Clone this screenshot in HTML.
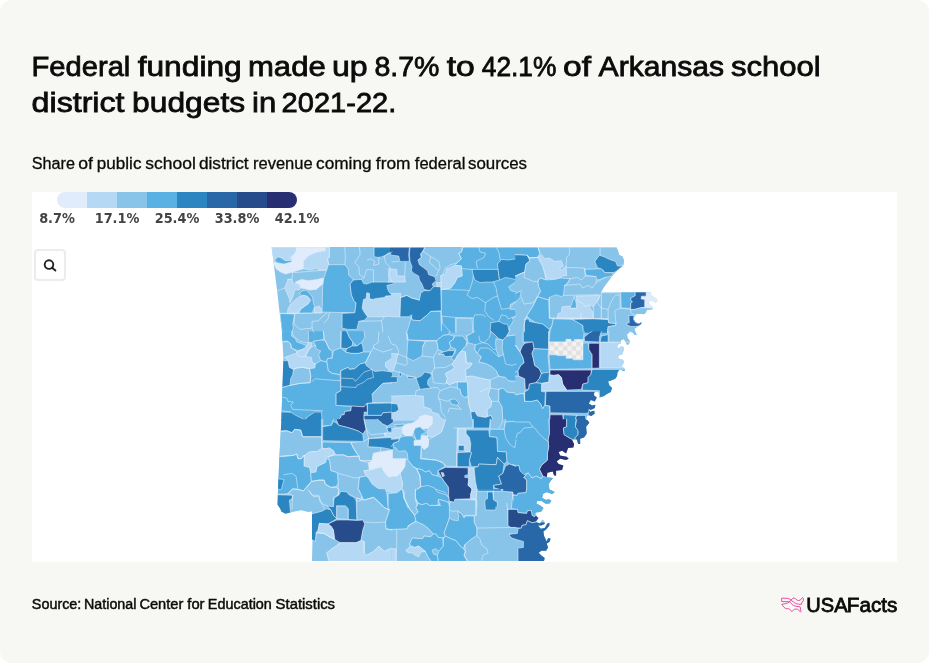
<!DOCTYPE html>
<html lang="en">
<head>
<meta charset="utf-8">
<title>Federal funding share of Arkansas school district budgets</title>
<style>
html,body{margin:0;padding:0;background:#fff;}
body{width:929px;height:663px;overflow:hidden;position:relative;font-family:"Liberation Sans",sans-serif;}
.card{position:absolute;left:0;top:0;width:929px;height:663px;background:#f7f8f3;border-radius:12px;overflow:hidden;}
.ln{display:block;position:absolute;left:0;margin:0;width:929px;white-space:nowrap;color:#0b0b0b;}
h1,p{margin:0;padding:0;font-weight:400;font-size:inherit;}
.ln span{position:absolute;left:0;top:0;white-space:nowrap;transform-origin:0 0;}
.t{font-size:28.5px;line-height:36px;height:36px;-webkit-text-stroke:0.8px #0b0b0b;}
.s{font-size:16px;line-height:20px;height:20px;-webkit-text-stroke:0.3px #0b0b0b;}
.c{font-size:14px;line-height:18px;height:18px;-webkit-text-stroke:0.45px #0b0b0b;}
.g{font-size:20.5px;line-height:24px;height:24px;-webkit-text-stroke:0.8px #0b0b0b;}
.chart{position:absolute;left:32px;top:192px;width:865px;height:369.5px;background:#fff;overflow:hidden;}
.legend{position:absolute;left:25px;top:0;width:240px;height:16px;border-radius:8px;overflow:hidden;display:flex;}
.legend i{display:block;flex:1;height:16px;}
.lab{position:absolute;top:17.4px;font-family:"DejaVu Sans Condensed","DejaVu Sans",sans-serif;font-stretch:condensed;font-weight:700;font-size:14.3px;line-height:18px;color:#444;transform:translateX(-50%);white-space:nowrap;}
.zoom{position:absolute;left:2.4px;top:57.2px;width:31.4px;height:31.9px;box-sizing:border-box;border:2px solid #ececec;border-radius:4px;background:#fff;}
.zoom svg{position:absolute;left:-2px;top:-2px;}
.icon{position:absolute;left:776.6px;top:592px;width:32px;height:24px;}
</style>
</head>
<body>
<div class="card">
<h1><span class="ln t" style="top:47.6px"><span style="transform:translateX(31.58px) scaleX(1.0216)">Federal</span> <span style="transform:translateX(137.66px) scaleX(1.1134)">funding</span> <span style="transform:translateX(247.96px) scaleX(1.0913)">made</span> <span style="transform:translateX(332.03px) scaleX(1.1247)">up</span> <span style="transform:translateX(374.41px) scaleX(1.0006)">8.7%</span> <span style="transform:translateX(446.63px) scaleX(1.1845)">to</span> <span style="transform:translateX(481.73px) scaleX(0.9241)">42.1%</span> <span style="transform:translateX(563.11px) scaleX(1.1791)">of</span> <span style="transform:translateX(598.62px) scaleX(1.0569)">Arkansas</span> <span style="transform:translateX(731.02px) scaleX(1.0894)">school</span></span><span class="ln t" style="top:83.5px"><span style="transform:translateX(31.59px) scaleX(1.1287)">district</span> <span style="transform:translateX(132.10px) scaleX(1.1142)">budgets</span> <span style="transform:translateX(251.98px) scaleX(1.0902)">in</span> <span style="transform:translateX(281.62px) scaleX(1.0188)">2021-22.</span></span></h1>
<p><span class="ln s" style="top:154px"><span style="transform:translateX(31.66px) scaleX(1.0129)">Share</span> <span style="transform:translateX(78.23px) scaleX(1.0996)">of</span> <span style="transform:translateX(96.86px) scaleX(1.0655)">public</span> <span style="transform:translateX(145.37px) scaleX(1.0900)">school</span> <span style="transform:translateX(198.88px) scaleX(1.0767)">district</span> <span style="transform:translateX(252.98px) scaleX(1.0315)">revenue</span> <span style="transform:translateX(316.09px) scaleX(1.0761)">coming</span> <span style="transform:translateX(375.85px) scaleX(1.0813)">from</span> <span style="transform:translateX(414.82px) scaleX(1.0320)">federal</span> <span style="transform:translateX(467.94px) scaleX(1.0551)">sources</span></span></p>
<div class="chart">
<div class="legend"><i style="background:#e0ecfb"></i><i style="background:#b5d9f4"></i><i style="background:#88c4ea"></i><i style="background:#59b0e2"></i><i style="background:#2a85c1"></i><i style="background:#2868a8"></i><i style="background:#264c8c"></i><i style="background:#272e72"></i></div>
<span class="lab" style="left:25px">8.7%</span>
<span class="lab" style="left:85px">17.1%</span>
<span class="lab" style="left:145px">25.4%</span>
<span class="lab" style="left:205px">33.8%</span>
<span class="lab" style="left:265px">42.1%</span>
<svg class="map" width="865" height="369" viewBox="0 0 865 369" style="position:absolute;left:0;top:0">
<defs><pattern id="chk" x="7.4" y="0.2" width="8.8" height="8.8" patternUnits="userSpaceOnUse"><rect width="8.8" height="8.8" fill="#f3f3f3"/><rect width="4.4" height="4.4" fill="#e0e0e0"/><rect x="4.4" y="4.4" width="4.4" height="4.4" fill="#e0e0e0"/></pattern>
<clipPath id="st"><path d="M239.6,55.0 584.1,55.0 586.1,58.7 586.8,62.7 590.8,64.7 592.1,69.4 591.5,73.4 588.1,76.0 584.1,79.4 580.1,84.0 576.1,89.4 572.1,94.7 568.8,100.5 614.1,100.3 618.6,100.3 619.5,103.8 624.9,106.9 625.4,109.6 623.1,110.5 620.4,108.3 617.2,109.2 616.3,111.9 619.5,113.7 620.8,116.0 620.4,117.3 615.0,117.8 613.6,120.9 611.3,122.3 608.6,121.8 605.0,121.8 602.3,124.5 601.9,127.7 603.7,130.4 606.8,131.6 609.5,130.0 609.5,131.6 605.9,134.3 602.3,137.0 604.1,141.6 605.4,142.9 602.3,142.9 600.9,140.7 597.7,139.8 595.0,142.5 595.5,146.1 597.7,148.8 597.3,152.0 595.0,153.3 593.2,148.8 591.4,147.0 589.1,148.3 588.7,151.5 586.0,152.4 585.1,155.1 586.9,156.5 589.1,154.2 591.4,155.1 591.9,157.8 590.0,162.4 586.9,163.3 586.0,165.5 587.8,167.3 590.9,167.8 592.3,170.5 590.5,172.3 590.0,174.6 592.8,176.8 592.8,178.6 590.5,178.6 587.8,177.3 585.5,180.4 585.1,184.1 583.3,186.8 580.5,188.0 576.1,189.4 577.5,193.4 580.1,196.1 578.8,200.1 574.8,202.1 572.1,204.1 567.4,205.4 566.8,200.7 564.8,199.4 562.1,200.7 562.1,203.4 564.8,205.4 562.8,209.4 558.8,208.1 556.8,211.4 560.1,213.4 563.4,212.8 562.8,216.1 558.8,218.1 556.1,216.8 558.1,220.1 562.1,218.8 562.8,221.4 559.4,224.1 555.4,223.4 554.1,228.0 555.4,228.0 557.4,230.7 554.1,234.7 554.8,241.4 552.1,245.4 548.1,246.7 548.1,252.0 546.1,252.0 545.4,248.0 540.1,248.0 542.1,252.0 541.4,255.4 536.1,256.0 534.1,261.4 530.1,258.7 526.7,260.0 528.1,263.4 534.7,264.7 536.7,266.7 534.1,268.1 528.1,266.7 524.7,269.4 526.7,272.1 531.4,273.4 530.1,278.1 524.1,278.7 524.1,283.4 522.1,283.4 520.7,279.4 515.4,280.7 514.7,285.4 520.7,286.1 516.7,292.1 517.4,297.4 522.7,300.0 520.1,302.0 514.7,300.0 510.7,302.0 510.1,306.0 514.1,308.0 516.7,307.3 519.4,308.7 517.4,311.4 513.4,311.4 509.4,308.7 505.4,308.7 504.1,311.4 508.1,313.4 511.4,316.0 509.4,319.4 504.1,320.7 504.1,324.0 506.7,326.0 504.1,330.0 508.1,331.4 510.1,327.4 512.1,328.7 512.7,332.0 509.4,333.4 506.1,333.4 508.7,336.7 512.7,336.0 515.4,331.4 517.4,330.7 517.4,333.4 514.1,337.4 511.4,339.4 512.1,344.1 514.7,349.4 516.1,346.1 518.7,346.7 517.4,350.1 514.7,351.4 516.1,355.4 514.1,358.7 509.4,358.7 506.7,360.7 509.4,363.4 512.7,366.1 512.1,368.8 510.1,370.0 280.0,370.0 280.0,319.4 276.0,320.0 269.4,318.3 262.7,319.4 257.4,320.7 253.4,321.8 249.4,319.4 248.0,316.0 245.7,312.7 246.0,298.0 247.4,265.0 249.4,228.0 250.4,196.0 251.4,167.0 250.0,140.0 247.7,121.4 245.1,98.7Z"/></clipPath></defs>
<path d="M239.6,55.0 584.1,55.0 586.1,58.7 586.8,62.7 590.8,64.7 592.1,69.4 591.5,73.4 588.1,76.0 584.1,79.4 580.1,84.0 576.1,89.4 572.1,94.7 568.8,100.5 614.1,100.3 618.6,100.3 619.5,103.8 624.9,106.9 625.4,109.6 623.1,110.5 620.4,108.3 617.2,109.2 616.3,111.9 619.5,113.7 620.8,116.0 620.4,117.3 615.0,117.8 613.6,120.9 611.3,122.3 608.6,121.8 605.0,121.8 602.3,124.5 601.9,127.7 603.7,130.4 606.8,131.6 609.5,130.0 609.5,131.6 605.9,134.3 602.3,137.0 604.1,141.6 605.4,142.9 602.3,142.9 600.9,140.7 597.7,139.8 595.0,142.5 595.5,146.1 597.7,148.8 597.3,152.0 595.0,153.3 593.2,148.8 591.4,147.0 589.1,148.3 588.7,151.5 586.0,152.4 585.1,155.1 586.9,156.5 589.1,154.2 591.4,155.1 591.9,157.8 590.0,162.4 586.9,163.3 586.0,165.5 587.8,167.3 590.9,167.8 592.3,170.5 590.5,172.3 590.0,174.6 592.8,176.8 592.8,178.6 590.5,178.6 587.8,177.3 585.5,180.4 585.1,184.1 583.3,186.8 580.5,188.0 576.1,189.4 577.5,193.4 580.1,196.1 578.8,200.1 574.8,202.1 572.1,204.1 567.4,205.4 566.8,200.7 564.8,199.4 562.1,200.7 562.1,203.4 564.8,205.4 562.8,209.4 558.8,208.1 556.8,211.4 560.1,213.4 563.4,212.8 562.8,216.1 558.8,218.1 556.1,216.8 558.1,220.1 562.1,218.8 562.8,221.4 559.4,224.1 555.4,223.4 554.1,228.0 555.4,228.0 557.4,230.7 554.1,234.7 554.8,241.4 552.1,245.4 548.1,246.7 548.1,252.0 546.1,252.0 545.4,248.0 540.1,248.0 542.1,252.0 541.4,255.4 536.1,256.0 534.1,261.4 530.1,258.7 526.7,260.0 528.1,263.4 534.7,264.7 536.7,266.7 534.1,268.1 528.1,266.7 524.7,269.4 526.7,272.1 531.4,273.4 530.1,278.1 524.1,278.7 524.1,283.4 522.1,283.4 520.7,279.4 515.4,280.7 514.7,285.4 520.7,286.1 516.7,292.1 517.4,297.4 522.7,300.0 520.1,302.0 514.7,300.0 510.7,302.0 510.1,306.0 514.1,308.0 516.7,307.3 519.4,308.7 517.4,311.4 513.4,311.4 509.4,308.7 505.4,308.7 504.1,311.4 508.1,313.4 511.4,316.0 509.4,319.4 504.1,320.7 504.1,324.0 506.7,326.0 504.1,330.0 508.1,331.4 510.1,327.4 512.1,328.7 512.7,332.0 509.4,333.4 506.1,333.4 508.7,336.7 512.7,336.0 515.4,331.4 517.4,330.7 517.4,333.4 514.1,337.4 511.4,339.4 512.1,344.1 514.7,349.4 516.1,346.1 518.7,346.7 517.4,350.1 514.7,351.4 516.1,355.4 514.1,358.7 509.4,358.7 506.7,360.7 509.4,363.4 512.7,366.1 512.1,368.8 510.1,370.0 280.0,370.0 280.0,319.4 276.0,320.0 269.4,318.3 262.7,319.4 257.4,320.7 253.4,321.8 249.4,319.4 248.0,316.0 245.7,312.7 246.0,298.0 247.4,265.0 249.4,228.0 250.4,196.0 251.4,167.0 250.0,140.0 247.7,121.4 245.1,98.7Z" fill="#88c4ea"/>
<g clip-path="url(#st)" fill="none" stroke="#e4f1fb" stroke-opacity="0.8" stroke-width="0.7" stroke-linejoin="round" stroke-linecap="round">
<path d="M239.6,55.3 264.7,55.3 264.0,60.0 259.4,64.7 260.7,68.3 253.4,68.7 249.4,66.0 246.0,64.7 242.7,68.0 241.3,69.4Z" fill="#b5d9f4" stroke="none"/>
<path d="M239.6,55.3 264.7,55.3 264.0,60.0 259.4,64.7 260.7,68.3 253.4,68.7 249.4,66.0 246.0,64.7 242.7,68.0 241.3,69.4 239.6,55.3"/>
<path d="M264.7,55.3 293.4,55.3 293.4,58.7 285.4,60.0 280.1,62.0 276.1,64.0 271.4,69.4 271.4,76.7 264.7,78.7 260.7,80.0 253.4,82.0 248.7,80.0 244.0,76.7 242.0,72.0 241.3,69.4 244.0,70.7 250.7,72.0 256.0,70.4 260.7,68.7 258.7,65.4 260.7,64.0 264.0,60.0Z" fill="#e0ecfb" stroke="none"/>
<path d="M264.7,55.3 293.4,55.3 293.4,58.7 285.4,60.0 280.1,62.0 276.1,64.0 271.4,69.4 271.4,76.7 264.7,78.7 260.7,80.0 253.4,82.0 248.7,80.0 244.0,76.7 242.0,72.0 241.3,69.4 244.0,70.7 250.7,72.0 256.0,70.4 260.7,68.7 258.7,65.4 260.7,64.0 264.0,60.0 264.7,55.3"/>
<path d="M242.7,68.0 246.0,64.7 249.4,66.0 253.4,68.7 260.0,68.3 259.4,70.0 252.0,72.0 245.3,70.7Z" fill="#59b0e2" stroke="none"/>
<path d="M242.7,68.0 246.0,64.7 249.4,66.0 253.4,68.7 260.0,68.3 259.4,70.0 252.0,72.0 245.3,70.7 242.7,68.0"/>
<path d="M276.1,64.0 280.1,62.0 285.4,60.0 293.4,58.7 293.4,55.3 297.4,55.3 297.4,65.4 295.4,66.7 296.7,72.0 296.7,78.0 286.7,78.0 284.1,76.0 278.7,78.0 271.4,76.7 271.4,69.4Z" fill="#b5d9f4" stroke="none"/>
<path d="M276.1,64.0 280.1,62.0 285.4,60.0 293.4,58.7 293.4,55.3 297.4,55.3 297.4,65.4 295.4,66.7 296.7,72.0 296.7,78.0 286.7,78.0 284.1,76.0 278.7,78.0 271.4,76.7 271.4,69.4 276.1,64.0"/>
<path d="M256.0,87.4 260.0,87.4 261.4,92.1 264.7,91.4 268.0,92.1 268.0,97.4 262.7,98.1 260.7,105.4 258.0,110.7 257.4,106.7 253.4,97.4 252.7,96.1Z" fill="#b5d9f4" stroke="none"/>
<path d="M256.0,87.4 260.0,87.4 261.4,92.1 264.7,91.4 268.0,92.1 268.0,97.4 262.7,98.1 260.7,105.4 258.0,110.7 257.4,106.7 253.4,97.4 252.7,96.1 256.0,87.4"/>
<path d="M263.4,90.1 269.4,87.4 276.1,88.7 285.4,87.4 291.4,86.0 290.7,92.1 287.4,94.7 284.1,97.4 277.4,98.1 273.4,96.7 268.7,96.1 268.0,92.1 264.7,91.4Z" fill="#e0ecfb" stroke="none"/>
<path d="M263.4,90.1 269.4,87.4 276.1,88.7 285.4,87.4 291.4,86.0 290.7,92.1 287.4,94.7 284.1,97.4 277.4,98.1 273.4,96.7 268.7,96.1 268.0,92.1 264.7,91.4 263.4,90.1"/>
<path d="M267.4,101.4 270.0,98.7 274.7,98.1 278.7,102.7 280.7,105.4 281.4,110.7 282.7,114.8 280.1,121.4 266.7,121.4 268.7,117.4 272.0,114.8 276.1,112.1 278.7,108.1 276.1,104.7 273.4,103.4 269.4,103.4Z" fill="#59b0e2" stroke="none"/>
<path d="M267.4,101.4 270.0,98.7 274.7,98.1 278.7,102.7 280.7,105.4 281.4,110.7 282.7,114.8 280.1,121.4 266.7,121.4 268.7,117.4 272.0,114.8 276.1,112.1 278.7,108.1 276.1,104.7 273.4,103.4 269.4,103.4 267.4,101.4"/>
<path d="M258.7,112.1 262.7,108.1 267.4,104.7 272.0,103.4 276.1,105.4 278.1,108.7 275.4,112.1 271.4,114.8 268.0,117.4 266.0,121.4 255.4,121.4 256.0,116.8Z" fill="#b5d9f4" stroke="none"/>
<path d="M258.7,112.1 262.7,108.1 267.4,104.7 272.0,103.4 276.1,105.4 278.1,108.7 275.4,112.1 271.4,114.8 268.0,117.4 266.0,121.4 255.4,121.4 256.0,116.8 258.7,112.1"/>
<path d="M282.7,115.4 287.4,114.1 289.4,117.4 289.4,120.8 282.1,120.8Z" fill="#b5d9f4" stroke="none"/>
<path d="M282.7,115.4 287.4,114.1 289.4,117.4 289.4,120.8 282.1,120.8 282.7,115.4"/>
<path d="M297.4,72.7 312.8,72.7 316.1,76.7 316.8,83.4 319.4,85.4 321.4,88.0 318.1,92.1 319.4,102.7 322.1,109.4 324.1,110.7 322.8,120.8 290.1,120.1 290.7,93.4 292.1,85.4 294.7,78.0 296.7,72.0Z" fill="#59b0e2" stroke="none"/>
<path d="M297.4,72.7 312.8,72.7 316.1,76.7 316.8,83.4 319.4,85.4 321.4,88.0 318.1,92.1 319.4,102.7 322.1,109.4 324.1,110.7 322.8,120.8 290.1,120.1 290.7,93.4 292.1,85.4 294.7,78.0 296.7,72.0 297.4,72.7"/>
<path d="M330.1,116.1 331.5,107.4 334.1,106.7 334.8,100.7 337.5,101.4 337.5,106.7 341.5,107.4 342.8,106.7 352.2,105.4 353.5,104.1 360.0,103.4 360.0,124.1 352.2,124.8 335.5,124.8 332.1,120.1Z" fill="#b5d9f4" stroke="none"/>
<path d="M330.1,116.1 331.5,107.4 334.1,106.7 334.8,100.7 337.5,101.4 337.5,106.7 341.5,107.4 342.8,106.7 352.2,105.4 353.5,104.1 360.0,103.4 M360.0,124.1 352.2,124.8 335.5,124.8 332.1,120.1 330.1,116.1"/>
<path d="M342.1,55.3 360.0,55.3 360.0,60.0 356.2,61.3 349.5,66.0 342.1,64.7Z" fill="#2a85c1" stroke="none"/>
<path d="M342.1,55.3 360.0,55.3 M360.0,60.0 356.2,61.3 349.5,66.0 342.1,64.7 342.1,55.3"/>
<path d="M248.0,121.4 262.7,122.1 260.7,132.1 261.4,136.1 260.0,140.0 250.0,140.0Z" fill="#59b0e2" stroke="none"/>
<path d="M248.0,121.4 262.7,122.1 260.7,132.1 261.4,136.1 260.0,140.0 250.0,140.0 248.0,121.4"/>
<path d="M321.4,88.0 329.5,87.4 331.5,91.4 334.8,92.1 340.1,90.1 360.8,90.1 360.8,92.1 354.8,93.4 356.2,98.7 358.8,102.1 360.8,103.4 353.5,104.1 352.2,105.4 342.8,106.7 341.5,107.4 337.5,106.7 337.5,101.4 334.8,100.7 334.1,106.7 331.5,107.4 330.1,116.1 332.1,120.1 335.5,124.8 332.8,128.1 326.8,129.4 324.8,137.4 316.1,137.4 310.1,136.1 310.1,121.4 322.8,120.8 324.1,110.7 322.1,109.4 319.4,102.7 318.1,92.1Z" fill="#2a85c1" stroke="none"/>
<path d="M321.4,88.0 329.5,87.4 331.5,91.4 334.8,92.1 340.1,90.1 360.8,90.1 M360.8,92.1 354.8,93.4 356.2,98.7 358.8,102.1 360.8,103.4 353.5,104.1 352.2,105.4 342.8,106.7 341.5,107.4 337.5,106.7 337.5,101.4 334.8,100.7 334.1,106.7 331.5,107.4 330.1,116.1 332.1,120.1 335.5,124.8 332.8,128.1 326.8,129.4 324.8,137.4 316.1,137.4 310.1,136.1 310.1,121.4 322.8,120.8 324.1,110.7 322.1,109.4 319.4,102.7 318.1,92.1 321.4,88.0"/>
<path d="M358.0,55.3 377.4,55.3 376.7,62.7 377.4,69.4 368.0,69.4 366.7,64.0 360.0,63.3 358.0,60.0Z" fill="#2868a8" stroke="none"/>
<path d="M358.0,55.3 377.4,55.3 376.7,62.7 377.4,69.4 368.0,69.4 366.7,64.0 360.0,63.3"/>
<path d="M378.0,55.3 392.7,55.3 391.4,58.7 388.7,62.0 389.4,65.4 386.0,68.0 387.4,72.7 392.0,76.0 395.4,78.7 396.7,82.7 402.7,84.7 404.1,88.7 400.1,92.1 401.4,94.7 398.1,98.7 392.0,97.4 390.0,92.1 387.4,88.0 386.7,84.0 382.0,81.4 379.4,78.7 380.0,74.7 378.0,69.4 377.4,62.7Z" fill="#2868a8" stroke="none"/>
<path d="M378.0,55.3 392.7,55.3 391.4,58.7 388.7,62.0 389.4,65.4 386.0,68.0 387.4,72.7 392.0,76.0 395.4,78.7 396.7,82.7 402.7,84.7 404.1,88.7 400.1,92.1 401.4,94.7 398.1,98.7 392.0,97.4 390.0,92.1 387.4,88.0 386.7,84.0 382.0,81.4 379.4,78.7 380.0,74.7 378.0,69.4 377.4,62.7 378.0,55.3"/>
<path d="M356.0,76.7 364.7,77.4 365.3,84.0 372.7,84.0 373.4,90.1 356.0,90.1Z" fill="#b5d9f4" stroke="none"/>
<path d="M356.0,76.7 364.7,77.4 365.3,84.0 372.7,84.0 373.4,90.1 356.0,90.1"/>
<path d="M359.3,101.4 368.7,101.4 368.0,124.8 359.3,124.8Z" fill="#b5d9f4" stroke="none"/>
<path d="M359.3,101.4 368.7,101.4 368.0,124.8 359.3,124.8"/>
<path d="M368.7,105.4 374.7,103.4 380.0,106.1 387.4,108.1 388.7,101.4 392.0,98.7 398.1,98.7 401.4,94.7 408.7,94.1 409.4,118.8 398.7,119.4 395.4,122.8 388.0,128.8 380.0,128.1 379.4,124.8 368.0,124.8Z" fill="#2a85c1" stroke="none"/>
<path d="M368.7,105.4 374.7,103.4 380.0,106.1 387.4,108.1 388.7,101.4 392.0,98.7 398.1,98.7 401.4,94.7 408.7,94.1 409.4,118.8 398.7,119.4 395.4,122.8 388.0,128.8 380.0,128.1 379.4,124.8 368.0,124.8 368.7,105.4"/>
<path d="M430.8,55.3 484.8,55.3 484.8,140.8 409.4,140.8 409.4,97.4 418.7,96.1 422.8,90.7 425.4,85.4 430.1,84.0 429.4,74.0 422.8,73.4 425.4,70.7 429.4,66.7 426.8,61.3 429.4,60.0Z" fill="#59b0e2" stroke="none"/>
<path d="M430.8,55.3 484.8,55.3 M409.4,140.8 409.4,97.4 418.7,96.1 422.8,90.7 425.4,85.4 430.1,84.0 429.4,74.0 422.8,73.4 425.4,70.7 429.4,66.7 426.8,61.3 429.4,60.0 430.8,55.3"/>
<path d="M408.7,84.0 413.4,82.0 414.7,76.7 418.7,75.4 422.8,73.4 429.4,74.0 430.1,84.0 425.4,85.4 422.8,90.7 418.7,96.1 409.4,97.4 408.7,94.1Z" fill="#b5d9f4" stroke="none"/>
<path d="M408.7,84.0 413.4,82.0 414.7,76.7 418.7,75.4 422.8,73.4 429.4,74.0 430.1,84.0 425.4,85.4 422.8,90.7 418.7,96.1 409.4,97.4 408.7,94.1 408.7,84.0"/>
<path d="M404.7,90.7 409.4,90.7 409.4,94.7 404.7,94.7Z" fill="#b5d9f4" stroke="none"/>
<path d="M404.7,90.7 409.4,90.7 409.4,94.7 404.7,94.7 404.7,90.7"/>
<path d="M440.1,77.4 466.1,77.4 467.5,88.0 460.1,90.1 453.5,90.1 448.1,90.7 442.8,88.0 441.4,84.0Z" fill="#2a85c1" stroke="none"/>
<path d="M440.1,77.4 466.1,77.4 467.5,88.0 460.1,90.1 453.5,90.1 448.1,90.7 442.8,88.0 441.4,84.0 440.1,77.4"/>
<path d="M465.5,72.0 469.5,67.4 476.2,68.0 484.8,66.7 484.8,88.0 480.2,86.7 473.5,85.4 467.5,88.0 466.1,77.4Z" fill="#2a85c1" stroke="none"/>
<path d="M465.5,72.0 469.5,67.4 476.2,68.0 484.8,66.7 M484.8,88.0 480.2,86.7 473.5,85.4 467.5,88.0 466.1,77.4 465.5,72.0"/>
<path d="M476.8,94.7 484.8,89.4 484.8,100.1 478.8,98.7Z" fill="#88c4ea" stroke="none"/>
<path d="M476.8,94.7 484.8,89.4 M484.8,100.1 478.8,98.7 476.8,94.7"/>
<path d="M424.1,126.1 440.1,126.1 440.8,140.8 424.1,140.8Z" fill="#88c4ea" stroke="none"/>
<path d="M424.1,126.1 440.1,126.1 440.8,140.8 M424.1,140.8 424.1,126.1"/>
<path d="M458.8,130.8 466.8,129.4 472.1,132.1 475.5,132.1 477.5,140.8 458.1,140.8Z" fill="#2a85c1" stroke="none"/>
<path d="M458.8,130.8 466.8,129.4 472.1,132.1 475.5,132.1 477.5,140.8 M458.1,140.8 458.8,130.8"/>
<path d="M379.4,124.8 380.0,128.1 388.0,128.8 395.4,122.8 398.7,119.4 408.7,119.4 409.4,140.8 374.7,140.8 377.4,132.1Z" fill="#59b0e2" stroke="none"/>
<path d="M379.4,124.8 380.0,128.1 388.0,128.8 395.4,122.8 398.7,119.4 408.7,119.4 409.4,140.8 M374.7,140.8 377.4,132.1 379.4,124.8"/>
<path d="M478.4,112.5 482.2,110.1 485.5,110.6 485.5,141.5 478.4,141.5 477.0,135.4 479.1,132.9 481.5,128.1 480.3,125.7 483.9,125.2 484.6,122.1 483.2,117.3 477.9,117.3Z" fill="#88c4ea" stroke="none"/>
<path d="M478.4,112.5 482.2,110.1 485.5,110.6 M478.4,141.5 477.0,135.4 479.1,132.9 481.5,128.1 480.3,125.7 483.9,125.2 484.6,122.1 483.2,117.3 477.9,117.3 478.4,112.5"/>
<path d="M483.3,55.3 506.0,55.3 508.0,61.3 505.4,65.4 498.0,66.0 495.3,63.3 483.3,62.7Z" fill="#59b0e2" stroke="none"/>
<path d="M483.3,55.3 506.0,55.3 508.0,61.3 505.4,65.4 498.0,66.0 495.3,63.3 483.3,62.7"/>
<path d="M506.0,55.3 585.5,55.3 593.5,69.4 569.4,100.7 569.4,126.8 517.4,126.1 516.7,108.1 505.4,104.7 508.7,99.4 506.7,94.7 506.0,89.4 508.0,86.0 514.0,88.0 512.7,80.7 510.7,74.0 506.0,65.4 508.0,61.3Z" fill="#88c4ea" stroke="none"/>
<path d="M506.0,55.3 585.5,55.3 593.5,69.4 569.4,100.7 569.4,126.8 517.4,126.1 516.7,108.1 505.4,104.7 508.7,99.4 506.7,94.7 506.0,89.4 508.0,86.0 514.0,88.0 512.7,80.7 510.7,74.0 506.0,65.4 508.0,61.3 506.0,55.3"/>
<path d="M483.3,62.7 495.3,63.3 498.0,68.7 494.0,72.0 492.7,80.0 483.3,84.0Z" fill="#2a85c1" stroke="none"/>
<path d="M483.3,62.7 495.3,63.3 498.0,68.7 494.0,72.0 492.7,80.0 483.3,84.0"/>
<path d="M483.3,84.0 492.7,80.0 494.0,72.0 498.0,68.7 495.3,63.3 498.0,66.0 505.4,65.4 506.0,65.4 510.7,74.0 512.7,80.7 514.0,88.0 508.0,86.0 506.0,89.4 506.7,94.7 508.7,99.4 505.4,104.7 504.0,108.1 501.4,113.4 494.7,124.1 492.7,127.4 492.0,140.8 483.3,140.8Z" fill="#88c4ea" stroke="none"/>
<path d="M483.3,84.0 492.7,80.0 494.0,72.0 498.0,68.7 495.3,63.3 498.0,66.0 505.4,65.4 506.0,65.4 510.7,74.0 512.7,80.7 514.0,88.0 508.0,86.0 506.0,89.4 506.7,94.7 508.7,99.4 505.4,104.7 504.0,108.1 501.4,113.4 494.7,124.1 492.7,127.4 492.0,140.8"/>
<path d="M506.0,65.4 509.4,62.7 512.7,66.7 517.4,66.0 522.7,69.4 529.4,68.7 531.4,74.0 527.4,76.7 530.1,78.0 534.1,74.0 534.7,83.4 529.4,84.0 528.7,86.0 522.7,87.4 514.7,86.7 512.7,80.7 510.7,74.0Z" fill="#b5d9f4" stroke="none"/>
<path d="M506.0,65.4 509.4,62.7 512.7,66.7 517.4,66.0 522.7,69.4 529.4,68.7 531.4,74.0 527.4,76.7 530.1,78.0 534.1,74.0 534.7,83.4 529.4,84.0 528.7,86.0 522.7,87.4 514.7,86.7 512.7,80.7 510.7,74.0 506.0,65.4"/>
<path d="M562.8,69.4 567.4,63.3 572.1,64.7 577.5,67.4 583.5,69.4 585.5,74.0 592.1,74.0 588.1,76.0 584.1,79.4 581.5,80.7 572.8,80.7 570.8,78.0 565.4,75.4Z" fill="#2a85c1" stroke="none"/>
<path d="M562.8,69.4 567.4,63.3 572.1,64.7 577.5,67.4 583.5,69.4 585.5,74.0 592.1,74.0 588.1,76.0 584.1,79.4 581.5,80.7 572.8,80.7 570.8,78.0 565.4,75.4 562.8,69.4"/>
<path d="M552.8,77.4 569.4,76.7 572.8,80.7 581.5,80.7 580.1,84.0 573.5,85.4 568.1,87.4 564.8,88.0 564.1,84.7 554.1,83.4Z" fill="#59b0e2" stroke="none"/>
<path d="M552.8,77.4 569.4,76.7 572.8,80.7 581.5,80.7 580.1,84.0 573.5,85.4 568.1,87.4 564.8,88.0 564.1,84.7 554.1,83.4 552.8,77.4"/>
<path d="M506.0,89.4 508.0,86.0 514.0,88.0 522.7,87.4 528.7,86.0 538.1,86.7 535.4,92.1 532.7,93.4 531.4,103.4 529.4,104.7 524.1,102.7 517.4,105.4 516.7,108.1 505.4,104.7 508.7,99.4 506.7,94.7Z" fill="#59b0e2" stroke="none"/>
<path d="M506.0,89.4 508.0,86.0 514.0,88.0 522.7,87.4 528.7,86.0 538.1,86.7 535.4,92.1 532.7,93.4 531.4,103.4 529.4,104.7 524.1,102.7 517.4,105.4 516.7,108.1 505.4,104.7 508.7,99.4 506.7,94.7 506.0,89.4"/>
<path d="M505.4,104.7 516.7,108.1 517.4,126.1 521.4,126.8 520.0,133.4 517.4,137.4 510.7,132.1 504.0,130.8 497.4,126.8 494.7,124.1 501.4,113.4 504.0,108.1Z" fill="#59b0e2" stroke="none"/>
<path d="M505.4,104.7 516.7,108.1 517.4,126.1 521.4,126.8 520.0,133.4 517.4,137.4 510.7,132.1 504.0,130.8 497.4,126.8 494.7,124.1 501.4,113.4 504.0,108.1 505.4,104.7"/>
<path d="M483.3,101.4 489.3,98.7 488.0,105.4 483.3,110.7Z" fill="#59b0e2" stroke="none"/>
<path d="M483.3,101.4 489.3,98.7 488.0,105.4 483.3,110.7"/>
<path d="M492.7,127.4 496.7,126.8 497.4,129.4 504.0,130.8 510.7,132.1 517.4,137.4 517.4,140.8 492.0,140.8Z" fill="#2a85c1" stroke="none"/>
<path d="M492.7,127.4 496.7,126.8 497.4,129.4 504.0,130.8 510.7,132.1 517.4,137.4 517.4,140.8 M492.0,140.8 492.7,127.4"/>
<path d="M521.4,126.8 540.1,127.4 544.1,129.4 550.8,133.4 551.4,140.8 517.4,140.8 520.0,133.4Z" fill="#59b0e2" stroke="none"/>
<path d="M521.4,126.8 540.1,127.4 544.1,129.4 550.8,133.4 551.4,140.8 M517.4,140.8 520.0,133.4 521.4,126.8"/>
<path d="M525.4,126.1 526.1,121.4 529.4,120.8 530.1,114.8 537.4,114.1 540.1,116.1 544.7,116.1 544.7,106.7 546.8,109.4 550.1,110.7 553.4,114.8 556.8,112.7 558.8,117.4 560.8,120.1 561.4,126.1Z" fill="#b5d9f4" stroke="none"/>
<path d="M525.4,126.1 526.1,121.4 529.4,120.8 530.1,114.8 537.4,114.1 540.1,116.1 544.7,116.1 544.7,106.7 546.8,109.4 550.1,110.7 553.4,114.8 556.8,112.7 558.8,117.4 560.8,120.1 561.4,126.1 525.4,126.1"/>
<path d="M544.1,104.1 568.1,103.4 564.1,110.7 561.4,114.8 556.8,112.7 553.4,114.8 550.1,110.7 546.8,109.4 544.7,106.7Z" fill="#b5d9f4" stroke="none"/>
<path d="M544.1,104.1 568.1,103.4 564.1,110.7 561.4,114.8 556.8,112.7 553.4,114.8 550.1,110.7 546.8,109.4 544.7,106.7 544.1,104.1"/>
<path d="M542.1,104.7 544.1,110.7 544.7,116.1 538.1,116.1 540.1,110.7Z" fill="#59b0e2" stroke="none"/>
<path d="M542.1,104.7 544.1,110.7 544.7,116.1 538.1,116.1 540.1,110.7 542.1,104.7"/>
<path d="M540.1,127.4 561.4,126.8 576.1,127.4 576.8,130.8 584.1,131.4 583.5,133.4 576.1,134.8 575.5,140.8 551.4,140.8 550.8,133.4 544.1,129.4Z" fill="#2a85c1" stroke="none"/>
<path d="M540.1,127.4 561.4,126.8 576.1,127.4 576.8,130.8 584.1,131.4 583.5,133.4 576.1,134.8 575.5,140.8 M551.4,140.8 550.8,133.4 544.1,129.4 540.1,127.4"/>
<path d="M569.4,100.7 608.8,100.7 608.8,140.8 575.5,140.8 576.1,134.8 583.5,133.4 584.1,131.4 576.8,130.8 576.1,127.4 569.4,126.8Z" fill="#88c4ea" stroke="none"/>
<path d="M569.4,100.7 608.8,100.7 M575.5,140.8 576.1,134.8 583.5,133.4 584.1,131.4 576.8,130.8 576.1,127.4 569.4,126.8 569.4,100.7"/>
<path d="M589.5,101.4 602.8,100.7 602.2,105.4 598.2,106.7 598.8,114.8 589.5,115.4Z" fill="#59b0e2" stroke="none"/>
<path d="M589.5,101.4 602.8,100.7 602.2,105.4 598.2,106.7 598.8,114.8 589.5,115.4 589.5,101.4"/>
<path d="M602.8,100.7 608.8,100.7 608.8,116.1 598.8,117.4 598.2,106.7 602.2,105.4Z" fill="#2868a8" stroke="none"/>
<path d="M602.8,100.7 608.8,100.7 M608.8,116.1 598.8,117.4 598.2,106.7 602.2,105.4 602.8,100.7"/>
<path d="M597.5,124.1 601.5,124.1 602.2,128.1 605.5,130.8 608.8,130.8 608.8,134.1 600.2,133.4 594.8,132.1 597.5,129.4Z" fill="#2868a8" stroke="none"/>
<path d="M597.5,124.1 601.5,124.1 602.2,128.1 605.5,130.8 608.8,130.8 M608.8,134.1 600.2,133.4 594.8,132.1 597.5,129.4 597.5,124.1"/>
<path d="M608.6,99.7 626.7,99.7 626.7,116.4 608.6,116.4Z" fill="#e0ecfb" stroke="none"/>
<path d="M608.6,99.7 626.7,99.7 626.7,116.4 608.6,116.4 608.6,99.7"/>
<path d="M588.7,99.7 603.2,99.7 603.2,103.8 600.5,105.1 598.2,106.9 600.5,110.1 598.7,111.0 598.7,116.4 589.2,116.0Z" fill="#59b0e2" stroke="none"/>
<path d="M588.7,99.7 603.2,99.7 603.2,103.8 600.5,105.1 598.2,106.9 600.5,110.1 598.7,111.0 598.7,116.4 589.2,116.0 588.7,99.7"/>
<path d="M603.2,99.7 614.1,99.7 614.1,104.2 609.5,104.2 609.1,106.9 612.7,107.4 612.7,115.1 607.7,116.0 603.2,117.3 598.7,117.8 598.7,111.0 600.5,110.1 598.2,106.9 600.5,105.1 603.2,103.8Z" fill="#2868a8" stroke="none"/>
<path d="M603.2,99.7 614.1,99.7 614.1,104.2 609.5,104.2 609.1,106.9 612.7,107.4 612.7,115.1 607.7,116.0 603.2,117.3 598.7,117.8 598.7,111.0 600.5,110.1 598.2,106.9 600.5,105.1 603.2,103.8 603.2,99.7"/>
<path d="M598.7,117.8 603.2,117.3 607.7,116.0 612.7,115.7 621.3,116.0 621.3,118.2 614.1,122.7 601.4,122.7 598.7,120.9Z" fill="#88c4ea" stroke="none"/>
<path d="M598.7,117.8 603.2,117.3 607.7,116.0 612.7,115.7 621.3,116.0 621.3,118.2 614.1,122.7 601.4,122.7 598.7,120.9 598.7,117.8"/>
<path d="M596.9,123.6 601.9,123.6 601.4,127.3 603.2,130.4 606.8,131.8 609.5,130.0 610.4,132.2 606.8,134.0 603.2,134.5 599.1,134.5 595.1,133.1 594.6,131.3 597.3,130.9Z" fill="#2868a8" stroke="none"/>
<path d="M596.9,123.6 601.9,123.6 601.4,127.3 603.2,130.4 606.8,131.8 609.5,130.0 610.4,132.2 606.8,134.0 603.2,134.5 599.1,134.5 595.1,133.1 594.6,131.3 597.3,130.9 596.9,123.6"/>
<path d="M248.7,139.3 260.0,139.3 259.4,144.0 263.4,146.7 264.7,150.0 270.7,152.0 274.7,154.0 272.0,156.7 266.0,158.7 259.4,156.0 258.7,152.0 256.0,149.3 249.4,149.3Z" fill="#59b0e2" stroke="none"/>
<path d="M260.0,139.3 259.4,144.0 263.4,146.7 264.7,150.0 270.7,152.0 274.7,154.0 272.0,156.7 266.0,158.7 259.4,156.0 258.7,152.0 256.0,149.3 249.4,149.3 248.7,139.3"/>
<path d="M252.7,165.4 257.4,163.4 264.0,161.4 268.0,164.7 274.7,164.7 279.4,165.4 280.1,170.0 283.4,172.0 282.7,176.0 277.4,176.7 270.7,175.4 264.7,176.0 261.4,177.4 257.4,175.4 256.0,168.7Z" fill="#b5d9f4" stroke="none"/>
<path d="M252.7,165.4 257.4,163.4 264.0,161.4 268.0,164.7 274.7,164.7 279.4,165.4 280.1,170.0 283.4,172.0 282.7,176.0 277.4,176.7 270.7,175.4 264.7,176.0 261.4,177.4 257.4,175.4 256.0,168.7 252.7,165.4"/>
<path d="M264.7,160.0 272.0,156.7 274.7,154.0 276.1,150.0 280.1,150.7 279.4,154.7 276.1,158.7 274.7,161.4 273.4,164.7 268.0,164.7 264.0,161.4Z" fill="#b5d9f4" stroke="none"/>
<path d="M264.7,160.0 272.0,156.7 274.7,154.0 276.1,150.0 280.1,150.7 279.4,154.7 276.1,158.7 274.7,161.4 273.4,164.7 268.0,164.7 264.0,161.4 264.7,160.0"/>
<path d="M249.4,168.7 256.0,168.7 257.4,175.4 261.4,177.4 260.7,182.7 258.7,186.7 258.0,193.4 249.4,195.4Z" fill="#2a85c1" stroke="none"/>
<path d="M249.4,168.7 256.0,168.7 257.4,175.4 261.4,177.4 260.7,182.7 258.7,186.7 258.0,193.4 249.4,195.4 249.4,168.7"/>
<path d="M276.1,139.3 291.4,139.3 292.1,146.7 289.4,148.0 281.4,149.3 280.1,150.7 276.1,150.0 276.7,145.3Z" fill="#59b0e2" stroke="none"/>
<path d="M291.4,139.3 292.1,146.7 289.4,148.0 281.4,149.3 280.1,150.7 276.1,150.0 276.7,145.3 276.1,139.3"/>
<path d="M283.4,153.4 281.4,149.3 289.4,148.0 293.4,148.7 297.4,157.4 300.1,158.7 300.1,166.0 295.4,166.7 294.7,170.0 288.7,168.7 286.7,162.7 288.7,158.7 284.7,157.4Z" fill="#59b0e2" stroke="none"/>
<path d="M283.4,153.4 281.4,149.3 289.4,148.0 293.4,148.7 297.4,157.4 300.1,158.7 300.1,166.0 295.4,166.7 294.7,170.0 288.7,168.7 286.7,162.7 288.7,158.7 284.7,157.4 283.4,153.4"/>
<path d="M309.4,139.3 314.8,139.3 317.4,145.3 320.8,150.0 320.1,154.0 314.8,156.7 308.8,156.0Z" fill="#2a85c1" stroke="none"/>
<path d="M314.8,139.3 317.4,145.3 320.8,150.0 320.1,154.0 314.8,156.7 308.8,156.0 309.4,139.3"/>
<path d="M314.8,139.3 332.1,139.3 332.8,145.3 329.5,150.7 324.8,154.0 320.8,150.0 317.4,145.3Z" fill="#59b0e2" stroke="none"/>
<path d="M332.1,139.3 332.8,145.3 329.5,150.7 324.8,154.0 320.8,150.0 317.4,145.3 314.8,139.3"/>
<path d="M314.8,156.7 320.1,154.0 324.8,154.0 329.5,150.7 330.8,154.7 331.5,160.0 326.8,161.4 318.8,161.4 313.4,160.0Z" fill="#2a85c1" stroke="none"/>
<path d="M314.8,156.7 320.1,154.0 324.8,154.0 329.5,150.7 330.8,154.7 331.5,160.0 326.8,161.4 318.8,161.4 313.4,160.0 314.8,156.7"/>
<path d="M300.1,166.0 301.4,158.7 304.8,157.4 308.8,156.0 313.4,160.0 318.8,161.4 326.8,161.4 331.5,160.0 338.8,160.0 336.1,165.4 333.5,170.7 328.1,172.0 322.8,176.7 317.4,177.4 316.1,175.4 308.8,178.7 308.1,182.7 300.1,181.4 296.1,178.7 295.4,173.4 294.7,170.0 295.4,166.7Z" fill="#59b0e2" stroke="none"/>
<path d="M300.1,166.0 301.4,158.7 304.8,157.4 308.8,156.0 313.4,160.0 318.8,161.4 326.8,161.4 331.5,160.0 338.8,160.0 336.1,165.4 333.5,170.7 328.1,172.0 322.8,176.7 317.4,177.4 316.1,175.4 308.8,178.7 308.1,182.7 300.1,181.4 296.1,178.7 295.4,173.4 294.7,170.0 295.4,166.7 300.1,166.0"/>
<path d="M283.4,172.0 288.7,168.7 294.7,170.0 295.4,173.4 296.1,178.7 300.1,181.4 308.1,182.7 308.8,198.7 304.1,201.4 304.1,213.4 319.4,214.1 318.8,218.8 312.8,219.4 312.1,222.8 309.4,222.8 308.8,225.4 305.4,228.8 248.7,228.8 248.7,196.1 258.0,193.4 268.0,191.4 278.1,190.7 278.7,184.1 277.4,176.7 282.7,176.0Z" fill="#59b0e2" stroke="none"/>
<path d="M283.4,172.0 288.7,168.7 294.7,170.0 295.4,173.4 296.1,178.7 300.1,181.4 308.1,182.7 308.8,198.7 304.1,201.4 304.1,213.4 319.4,214.1 318.8,218.8 312.8,219.4 312.1,222.8 309.4,222.8 308.8,225.4 305.4,228.8 M248.7,228.8 248.7,196.1 258.0,193.4 268.0,191.4 278.1,190.7 278.7,184.1 277.4,176.7 282.7,176.0 283.4,172.0"/>
<path d="M248.7,220.1 258.7,220.1 262.7,222.8 270.7,226.8 271.4,228.8 248.7,228.8Z" fill="#2a85c1" stroke="none"/>
<path d="M248.7,220.1 258.7,220.1 262.7,222.8 270.7,226.8 271.4,228.8 M248.7,228.8 248.7,220.1"/>
<path d="M274.7,225.4 282.7,220.1 289.4,220.1 290.1,228.8 273.4,228.8Z" fill="#2a85c1" stroke="none"/>
<path d="M274.7,225.4 282.7,220.1 289.4,220.1 290.1,228.8 M273.4,228.8 274.7,225.4"/>
<path d="M353.5,170.7 360.8,165.4 360.8,184.1 357.5,184.1 356.8,177.4 353.5,174.7Z" fill="#b5d9f4" stroke="none"/>
<path d="M353.5,170.7 360.8,165.4 M360.8,184.1 357.5,184.1 356.8,177.4 353.5,174.7 353.5,170.7"/>
<path d="M308.8,178.7 316.1,175.4 317.4,177.4 322.8,176.7 328.1,172.0 333.5,170.7 334.1,173.4 337.5,176.0 342.8,179.4 350.8,178.7 360.8,180.1 360.8,190.7 350.8,191.4 340.1,202.1 340.8,210.8 335.5,211.4 332.1,214.8 319.4,214.1 304.1,213.4 304.1,201.4 308.8,198.7Z" fill="#2a85c1" stroke="none"/>
<path d="M308.8,178.7 316.1,175.4 317.4,177.4 322.8,176.7 328.1,172.0 333.5,170.7 334.1,173.4 337.5,176.0 342.8,179.4 350.8,178.7 360.8,180.1 M360.8,190.7 350.8,191.4 340.1,202.1 340.8,210.8 335.5,211.4 332.1,214.8 319.4,214.1 304.1,213.4 304.1,201.4 308.8,198.7 308.8,178.7"/>
<path d="M334.8,211.4 335.5,220.1 332.1,220.1 332.1,228.8 305.4,228.8 308.8,225.4 309.4,222.8 312.1,222.8 312.8,219.4 318.8,218.8 319.4,214.1 332.1,214.8Z" fill="#264c8c" stroke="none"/>
<path d="M334.8,211.4 335.5,220.1 332.1,220.1 332.1,228.8 M305.4,228.8 308.8,225.4 309.4,222.8 312.1,222.8 312.8,219.4 318.8,218.8 319.4,214.1 332.1,214.8 334.8,211.4"/>
<path d="M335.5,211.4 360.8,210.8 360.8,220.1 350.8,220.8 349.5,223.4 335.5,223.4 335.5,220.1Z" fill="#2a85c1" stroke="none"/>
<path d="M335.5,211.4 360.8,210.8 M360.8,220.1 350.8,220.8 349.5,223.4 335.5,223.4 335.5,220.1 335.5,211.4"/>
<path d="M332.1,223.4 349.5,223.4 350.8,220.8 360.8,220.1 360.8,228.8 332.1,228.8Z" fill="#2868a8" stroke="none"/>
<path d="M332.1,223.4 349.5,223.4 350.8,220.8 360.8,220.1 M332.1,228.8 332.1,223.4"/>
<path d="M360.0,139.3 374.7,139.3 375.4,148.0 404.7,148.7 405.4,152.0 406.1,157.4 411.4,160.0 406.7,162.0 411.4,162.0 413.4,164.7 420.7,164.0 422.8,168.7 420.1,172.0 422.8,176.0 418.7,178.7 413.4,181.4 415.4,186.7 414.1,190.7 417.4,192.7 424.1,190.1 425.4,190.1 425.4,196.1 428.1,197.4 429.4,202.8 432.8,205.4 436.1,204.1 436.8,212.1 438.8,218.8 440.1,228.8 360.0,228.8Z" fill="#88c4ea" stroke="none"/>
<path d="M374.7,139.3 375.4,148.0 404.7,148.7 405.4,152.0 406.1,157.4 411.4,160.0 406.7,162.0 411.4,162.0 413.4,164.7 420.7,164.0 422.8,168.7 420.1,172.0 422.8,176.0 418.7,178.7 413.4,181.4 415.4,186.7 414.1,190.7 417.4,192.7 424.1,190.1 425.4,190.1 425.4,196.1 428.1,197.4 429.4,202.8 432.8,205.4 436.1,204.1 436.8,212.1 438.8,218.8 440.1,228.8"/>
<path d="M434.8,144.0 442.8,140.0 443.4,152.7 442.8,157.4 445.4,161.4 449.5,164.7 446.8,170.0 453.5,171.4 460.1,174.7 464.1,178.7 466.8,184.1 473.5,185.4 476.2,188.7 484.8,189.4 484.8,201.4 474.8,200.1 470.8,196.1 466.8,197.4 466.8,209.4 470.1,214.8 470.8,228.8 461.5,228.8 458.8,223.4 455.5,224.8 454.8,217.4 458.8,214.8 459.5,209.4 456.1,202.8 458.1,196.1 458.1,188.1 450.8,186.7 440.1,184.1 434.1,184.7 433.4,177.4 437.4,175.4 440.1,171.4 434.1,170.7 433.4,160.0 429.4,158.7 434.1,153.4 434.8,149.3Z" fill="#88c4ea" stroke="none"/>
<path d="M434.8,144.0 442.8,140.0 443.4,152.7 442.8,157.4 445.4,161.4 449.5,164.7 446.8,170.0 453.5,171.4 460.1,174.7 464.1,178.7 466.8,184.1 473.5,185.4 476.2,188.7 484.8,189.4 M484.8,201.4 474.8,200.1 470.8,196.1 466.8,197.4 466.8,209.4 470.1,214.8 470.8,228.8 M461.5,228.8 458.8,223.4 455.5,224.8 454.8,217.4 458.8,214.8 459.5,209.4 456.1,202.8 458.1,196.1 458.1,188.1 450.8,186.7 440.1,184.1 434.1,184.7 433.4,177.4 437.4,175.4 440.1,171.4 434.1,170.7 433.4,160.0 429.4,158.7 434.1,153.4 434.8,149.3 434.8,144.0"/>
<path d="M374.0,139.3 417.4,139.3 416.7,142.7 411.4,143.3 406.1,147.3 404.7,148.7 376.0,148.0 375.4,142.7Z" fill="#59b0e2" stroke="none"/>
<path d="M417.4,139.3 416.7,142.7 411.4,143.3 406.1,147.3 404.7,148.7 376.0,148.0 375.4,142.7 374.0,139.3"/>
<path d="M376.0,148.0 393.4,149.3 390.7,154.7 390.0,164.0 381.4,168.7 374.7,165.4 375.4,156.0Z" fill="#59b0e2" stroke="none"/>
<path d="M376.0,148.0 393.4,149.3 390.7,154.7 390.0,164.0 381.4,168.7 374.7,165.4 375.4,156.0 376.0,148.0"/>
<path d="M404.7,148.7 406.1,147.3 411.4,143.3 416.7,142.7 422.1,144.0 421.4,147.3 417.4,150.0 418.7,154.7 416.1,158.7 411.4,160.0 406.1,157.4 405.4,152.0Z" fill="#59b0e2" stroke="none"/>
<path d="M404.7,148.7 406.1,147.3 411.4,143.3 416.7,142.7 422.1,144.0 421.4,147.3 417.4,150.0 418.7,154.7 416.1,158.7 411.4,160.0 406.1,157.4 405.4,152.0 404.7,148.7"/>
<path d="M422.8,144.0 430.8,144.0 434.8,149.3 434.1,153.4 429.4,158.7 425.4,163.4 422.8,168.7 418.7,166.7 422.8,161.4 424.1,157.4 418.7,154.7 417.4,150.0 421.4,147.3Z" fill="#59b0e2" stroke="none"/>
<path d="M422.8,144.0 430.8,144.0 434.8,149.3 434.1,153.4 429.4,158.7 425.4,163.4 422.8,168.7 418.7,166.7 422.8,161.4 424.1,157.4 418.7,154.7 417.4,150.0 421.4,147.3 422.8,144.0"/>
<path d="M406.7,162.0 411.4,160.0 416.1,158.7 422.8,158.7 420.7,164.0 413.4,164.7 411.4,162.0Z" fill="#2a85c1" stroke="none"/>
<path d="M406.7,162.0 411.4,160.0 416.1,158.7 422.8,158.7 420.7,164.0 413.4,164.7 411.4,162.0 406.7,162.0"/>
<path d="M434.8,144.0 442.8,139.3 458.8,139.3 462.8,142.7 466.8,146.7 470.8,148.0 474.8,144.0 484.8,142.7 484.8,189.4 476.2,188.7 473.5,185.4 466.8,184.1 464.1,178.7 460.1,174.7 453.5,171.4 446.8,170.0 449.5,164.7 445.4,161.4 442.8,157.4 443.4,152.7 436.1,150.7Z" fill="#59b0e2" stroke="none"/>
<path d="M434.8,144.0 442.8,139.3 M458.8,139.3 462.8,142.7 466.8,146.7 470.8,148.0 474.8,144.0 484.8,142.7 M484.8,189.4 476.2,188.7 473.5,185.4 466.8,184.1 464.1,178.7 460.1,174.7 453.5,171.4 446.8,170.0 449.5,164.7 445.4,161.4 442.8,157.4 443.4,152.7 436.1,150.7 434.8,144.0"/>
<path d="M464.1,146.7 470.8,148.0 470.1,156.0 471.5,162.7 466.8,164.7 464.1,157.4 463.5,150.7Z" fill="#88c4ea" stroke="none"/>
<path d="M464.1,146.7 470.8,148.0 470.1,156.0 471.5,162.7 466.8,164.7 464.1,157.4 463.5,150.7 464.1,146.7"/>
<path d="M458.8,139.3 477.5,139.3 474.8,144.0 470.8,148.0 466.8,146.7 462.8,142.7Z" fill="#2a85c1" stroke="none"/>
<path d="M477.5,139.3 474.8,144.0 470.8,148.0 466.8,146.7 462.8,142.7 458.8,139.3"/>
<path d="M477.5,139.3 484.8,139.3 484.8,142.7 474.8,144.0Z" fill="#88c4ea" stroke="none"/>
<path d="M484.8,142.7 474.8,144.0 477.5,139.3"/>
<path d="M422.8,168.7 425.4,163.4 429.4,158.7 433.4,160.0 434.1,170.7 440.1,171.4 437.4,175.4 433.4,177.4 433.4,189.4 424.1,190.1 417.4,192.7 414.1,190.7 415.4,186.7 413.4,181.4 418.7,178.7 422.8,176.0 420.1,172.0Z" fill="#b5d9f4" stroke="none"/>
<path d="M422.8,168.7 425.4,163.4 429.4,158.7 433.4,160.0 434.1,170.7 440.1,171.4 437.4,175.4 433.4,177.4 433.4,189.4 424.1,190.1 417.4,192.7 414.1,190.7 415.4,186.7 413.4,181.4 418.7,178.7 422.8,176.0 420.1,172.0 422.8,168.7"/>
<path d="M425.4,190.1 435.4,190.1 436.1,204.1 432.8,205.4 429.4,202.8 428.1,197.4 425.4,196.1Z" fill="#59b0e2" stroke="none"/>
<path d="M425.4,190.1 435.4,190.1 436.1,204.1 432.8,205.4 429.4,202.8 428.1,197.4 425.4,196.1 425.4,190.1"/>
<path d="M434.1,184.7 440.1,184.1 450.8,186.7 458.1,188.1 458.1,196.1 456.1,202.8 459.5,209.4 458.8,214.8 454.8,217.4 455.5,224.8 445.4,225.4 441.4,220.1 438.8,218.8 436.8,212.1 436.1,204.1 435.4,190.1 434.1,189.4Z" fill="#b5d9f4" stroke="none"/>
<path d="M434.1,184.7 440.1,184.1 450.8,186.7 458.1,188.1 458.1,196.1 456.1,202.8 459.5,209.4 458.8,214.8 454.8,217.4 455.5,224.8 445.4,225.4 441.4,220.1 438.8,218.8 436.8,212.1 436.1,204.1 435.4,190.1 434.1,189.4 434.1,184.7"/>
<path d="M438.8,220.1 442.8,219.4 445.4,224.1 453.5,225.4 458.8,223.4 461.5,228.8 440.1,228.8Z" fill="#2a85c1" stroke="none"/>
<path d="M438.8,220.1 442.8,219.4 445.4,224.1 453.5,225.4 458.8,223.4 461.5,228.8 M440.1,228.8 438.8,220.1"/>
<path d="M466.8,197.4 470.8,196.1 474.8,200.1 484.8,201.4 484.8,228.8 470.8,228.8 470.1,214.8 466.8,209.4Z" fill="#59b0e2" stroke="none"/>
<path d="M466.8,197.4 470.8,196.1 474.8,200.1 484.8,201.4 M470.8,228.8 470.1,214.8 466.8,209.4 466.8,197.4"/>
<path d="M359.3,184.7 365.3,184.7 365.3,190.1 359.3,190.7Z" fill="#2a85c1" stroke="none"/>
<path d="M359.3,184.7 365.3,184.7 365.3,190.1 359.3,190.7"/>
<path d="M367.3,180.1 370.0,181.4 369.3,184.1 367.3,184.1Z" fill="#2a85c1" stroke="none"/>
<path d="M367.3,180.1 370.0,181.4 369.3,184.1 367.3,184.1 367.3,180.1"/>
<path d="M384.0,186.1 389.4,184.1 392.7,180.1 398.7,181.4 399.4,184.1 396.0,188.1 395.4,192.1 398.7,196.1 392.0,196.7 388.0,197.4 386.7,193.4Z" fill="#2a85c1" stroke="none"/>
<path d="M384.0,186.1 389.4,184.1 392.7,180.1 398.7,181.4 399.4,184.1 396.0,188.1 395.4,192.1 398.7,196.1 392.0,196.7 388.0,197.4 386.7,193.4 384.0,186.1"/>
<path d="M375.4,184.7 382.7,184.7 382.0,186.7 376.0,186.7Z" fill="#2a85c1" stroke="none"/>
<path d="M375.4,184.7 382.7,184.7 382.0,186.7 376.0,186.7 375.4,184.7"/>
<path d="M359.3,204.1 380.0,203.4 391.4,204.1 392.0,214.8 398.7,216.8 400.1,220.1 406.7,222.1 408.1,225.4 413.4,228.8 359.3,228.8Z" fill="#b5d9f4" stroke="none"/>
<path d="M359.3,204.1 380.0,203.4 391.4,204.1 392.0,214.8 398.7,216.8 400.1,220.1 406.7,222.1 408.1,225.4 413.4,228.8"/>
<path d="M359.3,211.4 365.3,212.1 366.7,217.4 364.0,220.1 359.3,220.8Z" fill="#2a85c1" stroke="none"/>
<path d="M359.3,211.4 365.3,212.1 366.7,217.4 364.0,220.1 359.3,220.8"/>
<path d="M387.4,224.8 393.4,222.8 400.1,224.8 401.4,228.8 386.7,228.8Z" fill="#e0ecfb" stroke="none"/>
<path d="M387.4,224.8 393.4,222.8 400.1,224.8 401.4,228.8 M386.7,228.8 387.4,224.8"/>
<path d="M359.3,161.4 366.0,162.0 364.0,170.7 361.3,178.7 359.3,180.1Z" fill="#b5d9f4" stroke="none"/>
<path d="M359.3,161.4 366.0,162.0 364.0,170.7 361.3,178.7 359.3,180.1"/>
<path d="M417.4,208.1 422.8,206.8 426.8,210.8 425.4,213.4 419.4,212.1Z" fill="#59b0e2" stroke="none"/>
<path d="M417.4,208.1 422.8,206.8 426.8,210.8 425.4,213.4 419.4,212.1 417.4,208.1"/>
<path d="M483.3,139.3 491.3,139.3 491.3,150.0 492.7,151.3 490.0,154.7 488.0,160.0 483.3,153.4Z" fill="#88c4ea" stroke="none"/>
<path d="M491.3,139.3 491.3,150.0 492.7,151.3 490.0,154.7 488.0,160.0 483.3,153.4"/>
<path d="M483.3,184.1 486.7,184.1 492.7,186.7 493.3,197.4 492.0,201.4 483.3,202.8Z" fill="#88c4ea" stroke="none"/>
<path d="M483.3,184.1 486.7,184.1 492.7,186.7 493.3,197.4 492.0,201.4 483.3,202.8"/>
<path d="M491.3,139.3 516.7,139.3 516.7,157.4 502.0,156.7 500.7,150.0 491.3,150.0Z" fill="#2a85c1" stroke="none"/>
<path d="M516.7,139.3 516.7,157.4 502.0,156.7 500.7,150.0 491.3,150.0 491.3,139.3"/>
<path d="M492.7,151.3 500.7,150.0 502.0,156.7 500.0,161.4 501.4,166.7 502.7,173.4 507.4,176.7 509.4,181.4 507.4,186.7 504.0,190.7 497.4,192.1 496.7,197.4 493.3,197.4 492.7,186.7 486.7,184.1 486.0,178.7 488.7,173.4 492.0,170.7 490.7,165.4 488.0,160.0 490.0,154.7Z" fill="#264c8c" stroke="none"/>
<path d="M492.7,151.3 500.7,150.0 502.0,156.7 500.0,161.4 501.4,166.7 502.7,173.4 507.4,176.7 509.4,181.4 507.4,186.7 504.0,190.7 497.4,192.1 496.7,197.4 493.3,197.4 492.7,186.7 486.7,184.1 486.0,178.7 488.7,173.4 492.0,170.7 490.7,165.4 488.0,160.0 490.0,154.7 492.7,151.3"/>
<path d="M502.0,156.7 516.7,157.4 516.0,164.0 517.4,180.1 512.7,181.4 509.4,181.4 507.4,176.7 502.7,173.4 501.4,166.7 500.0,161.4Z" fill="#59b0e2" stroke="none"/>
<path d="M502.0,156.7 516.7,157.4 516.0,164.0 517.4,180.1 512.7,181.4 509.4,181.4 507.4,176.7 502.7,173.4 501.4,166.7 500.0,161.4 502.0,156.7"/>
<path d="M509.4,181.4 517.4,180.1 516.7,190.1 509.4,191.4 504.0,190.7 507.4,186.7Z" fill="#2a85c1" stroke="none"/>
<path d="M509.4,181.4 517.4,180.1 516.7,190.1 509.4,191.4 504.0,190.7 507.4,186.7 509.4,181.4"/>
<path d="M483.3,153.4 488.0,160.0 490.7,165.4 492.0,170.7 488.7,173.4 486.0,178.7 483.3,180.1Z" fill="#59b0e2" stroke="none"/>
<path d="M483.3,153.4 488.0,160.0 490.7,165.4 492.0,170.7 488.7,173.4 486.0,178.7 483.3,180.1"/>
<path d="M518.0,139.3 552.1,139.3 551.4,149.3 551.0,147.7 542.3,147.7 542.3,149.7 538.9,149.7 538.9,147.5 534.1,147.5 534.1,150.0 517.1,150.0Z" fill="#59b0e2" stroke="none"/>
<path d="M552.1,139.3 551.4,149.3 551.0,147.7 542.3,147.7 542.3,149.7 538.9,149.7 538.9,147.5 534.1,147.5 534.1,150.0 517.1,150.0 518.0,139.3"/>
<path d="M517.1,150.1 534.0,150.1 534.0,147.4 538.9,147.4 538.9,149.7 542.3,149.7 542.3,147.8 551.0,147.8 551.0,167.8 541.2,167.8 541.2,166.3 534.0,166.3 534.0,163.6 525.0,163.6 525.0,162.9 517.1,162.9Z" fill="url(#chk)" stroke="none"/>
<path d="M517.1,150.1 534.0,150.1 534.0,147.4 538.9,147.4 538.9,149.7 542.3,149.7 542.3,147.8 551.0,147.8 551.0,167.8 541.2,167.8 541.2,166.3 534.0,166.3 534.0,163.6 525.0,163.6 525.0,162.9 517.1,162.9 517.1,150.1"/>
<path d="M517.0,162.8 525.0,162.8 525.0,163.6 534.1,163.6 534.1,166.3 541.1,166.3 541.1,167.8 551.0,167.8 551.0,151.3 556.1,150.7 556.8,157.4 560.1,162.7 560.1,176.7 518.0,177.4Z" fill="#59b0e2" stroke="none"/>
<path d="M517.0,162.8 525.0,162.8 525.0,163.6 534.1,163.6 534.1,166.3 541.1,166.3 541.1,167.8 551.0,167.8 551.0,151.3 556.1,150.7 556.8,157.4 560.1,162.7 560.1,176.7 518.0,177.4 517.0,162.8"/>
<path d="M556.8,151.3 567.4,151.3 567.4,176.0 560.1,176.3 560.1,162.7 556.8,157.4Z" fill="#272e72" stroke="none"/>
<path d="M556.8,151.3 567.4,151.3 567.4,176.0 560.1,176.3 560.1,162.7 556.8,157.4 556.8,151.3"/>
<path d="M568.1,150.7 585.5,150.0 589.5,149.3 594.8,154.7 594.8,176.0 568.1,176.0Z" fill="#b5d9f4" stroke="none"/>
<path d="M568.1,150.7 585.5,150.0 589.5,149.3 594.8,154.7 594.8,176.0 568.1,176.0 568.1,150.7"/>
<path d="M576.8,139.3 598.8,139.3 598.8,150.0 576.8,150.0Z" fill="#88c4ea" stroke="none"/>
<path d="M598.8,139.3 598.8,150.0 576.8,150.0 576.8,139.3"/>
<path d="M552.1,145.3 556.8,141.3 560.1,139.3 569.4,139.3 567.4,145.3 567.4,150.0 552.8,149.3Z" fill="#2868a8" stroke="none"/>
<path d="M552.1,145.3 556.8,141.3 560.1,139.3 M569.4,139.3 567.4,145.3 567.4,150.0 552.8,149.3 552.1,145.3"/>
<path d="M569.4,144.0 576.1,142.7 576.1,150.0 568.1,150.0Z" fill="#2a85c1" stroke="none"/>
<path d="M569.4,144.0 576.1,142.7 576.1,150.0 568.1,150.0 569.4,144.0"/>
<path d="M518.0,178.1 559.4,178.1 558.8,182.7 556.1,185.4 556.1,190.7 550.8,192.1 549.4,197.4 534.7,198.1 530.7,192.1 529.4,185.4 526.7,182.7 522.1,183.4 518.0,182.7Z" fill="#272e72" stroke="none"/>
<path d="M518.0,178.1 559.4,178.1 558.8,182.7 556.1,185.4 556.1,190.7 550.8,192.1 549.4,197.4 534.7,198.1 530.7,192.1 529.4,185.4 526.7,182.7 522.1,183.4 518.0,182.7 518.0,178.1"/>
<path d="M510.0,191.4 517.4,190.1 517.4,183.4 522.1,183.4 526.7,182.7 529.4,185.4 530.7,192.1 534.7,198.1 514.0,198.7 509.4,199.4Z" fill="#b5d9f4" stroke="none"/>
<path d="M510.0,191.4 517.4,190.1 517.4,183.4 522.1,183.4 526.7,182.7 529.4,185.4 530.7,192.1 534.7,198.1 514.0,198.7 509.4,199.4 510.0,191.4"/>
<path d="M560.1,177.4 594.8,177.4 594.8,206.8 567.4,206.8 567.4,198.7 550.1,198.1 550.8,192.1 556.1,190.7 556.1,185.4 558.8,182.7Z" fill="#2a85c1" stroke="none"/>
<path d="M560.1,177.4 594.8,177.4 594.8,206.8 567.4,206.8 567.4,198.7 550.1,198.1 550.8,192.1 556.1,190.7 556.1,185.4 558.8,182.7 560.1,177.4"/>
<path d="M514.0,199.4 561.4,199.4 566.8,202.8 566.8,218.8 553.4,221.4 518.0,220.8 518.0,214.1 513.4,213.4Z" fill="#2868a8" stroke="none"/>
<path d="M514.0,199.4 561.4,199.4 566.8,202.8 566.8,218.8 553.4,221.4 518.0,220.8 518.0,214.1 513.4,213.4 514.0,199.4"/>
<path d="M492.7,200.1 496.7,197.4 497.4,192.1 504.0,190.7 509.4,191.4 509.4,199.4 513.4,200.1 512.7,213.4 510.7,216.8 508.7,212.1 505.4,208.1 500.0,209.4 492.7,209.4Z" fill="#2a85c1" stroke="none"/>
<path d="M492.7,200.1 496.7,197.4 497.4,192.1 504.0,190.7 509.4,191.4 509.4,199.4 513.4,200.1 512.7,213.4 510.7,216.8 508.7,212.1 505.4,208.1 500.0,209.4 492.7,209.4 492.7,200.1"/>
<path d="M483.3,202.8 492.0,201.4 492.7,209.4 500.0,209.4 505.4,208.1 508.7,212.1 510.7,216.8 512.7,213.4 517.4,214.1 518.0,228.8 483.3,228.8Z" fill="#59b0e2" stroke="none"/>
<path d="M483.3,202.8 492.0,201.4 492.7,209.4 500.0,209.4 505.4,208.1 508.7,212.1 510.7,216.8 512.7,213.4 517.4,214.1 518.0,228.8"/>
<path d="M518.0,222.8 530.7,222.8 531.4,228.8 518.0,228.8Z" fill="#272e72" stroke="none"/>
<path d="M518.0,222.8 530.7,222.8 531.4,228.8 M518.0,228.8 518.0,222.8"/>
<path d="M531.4,222.8 544.7,223.4 542.7,228.8 531.4,228.8Z" fill="#2a85c1" stroke="none"/>
<path d="M531.4,222.8 544.7,223.4 542.7,228.8 M531.4,228.8 531.4,222.8"/>
<path d="M544.7,223.4 553.4,223.4 554.1,228.8 542.7,228.8Z" fill="#2868a8" stroke="none"/>
<path d="M544.7,223.4 553.4,223.4 554.1,228.8 M542.7,228.8 544.7,223.4"/>
<path d="M556.8,218.8 564.1,217.4 564.8,222.1 559.4,224.8 556.1,222.8Z" fill="#2868a8" stroke="none"/>
<path d="M556.8,218.8 564.1,217.4 564.8,222.1 559.4,224.8 556.1,222.8 556.8,218.8"/>
<path d="M244.0,239.3 248.7,239.3 254.7,238.7 260.0,240.7 262.7,237.3 268.7,238.0 270.7,244.7 289.4,244.7 290.1,256.0 289.4,256.7 285.4,259.4 277.4,260.0 272.7,263.4 272.0,263.4 269.4,266.7 266.0,266.7 264.7,262.0 261.4,263.4 244.0,264.7Z" fill="#88c4ea" stroke="none"/>
<path d="M244.0,239.3 248.7,239.3 254.7,238.7 260.0,240.7 262.7,237.3 268.7,238.0 270.7,244.7 289.4,244.7 290.1,256.0 289.4,256.7 285.4,259.4 277.4,260.0 272.7,263.4 272.0,263.4 269.4,266.7 266.0,266.7 264.7,262.0 261.4,263.4 244.0,264.7 244.0,239.3"/>
<path d="M332.1,227.3 345.5,227.3 350.8,232.0 355.5,234.0 354.8,236.0 356.2,240.0 352.2,241.4 353.5,244.7 336.8,246.7 331.5,249.4 318.8,250.7 321.4,256.0 324.8,261.4 326.8,264.0 328.1,268.7 340.1,268.7 341.5,261.4 348.1,260.0 348.8,255.4 336.1,254.7 336.8,246.7 334.1,237.3Z" fill="#88c4ea" stroke="none"/>
<path d="M345.5,227.3 350.8,232.0 355.5,234.0 354.8,236.0 356.2,240.0 352.2,241.4 353.5,244.7 336.8,246.7 331.5,249.4 318.8,250.7 321.4,256.0 324.8,261.4 326.8,264.0 328.1,268.7 340.1,268.7 341.5,261.4 348.1,260.0 348.8,255.4 336.1,254.7 336.8,246.7 334.1,237.3 332.1,227.3"/>
<path d="M296.1,264.7 302.8,262.7 310.8,262.7 316.1,264.7 326.8,264.0 328.1,268.7 336.8,270.7 337.5,278.1 332.1,278.7 333.5,284.1 327.5,285.4 326.1,297.4 329.5,302.8 329.5,308.1 324.8,309.4 321.4,304.8 314.8,300.8 308.8,300.1 306.8,302.8 306.1,295.4 306.1,290.8 305.4,280.7 298.8,278.7 297.4,268.1Z" fill="#88c4ea" stroke="none"/>
<path d="M296.1,264.7 302.8,262.7 310.8,262.7 316.1,264.7 326.8,264.0 328.1,268.7 336.8,270.7 337.5,278.1 332.1,278.7 333.5,284.1 327.5,285.4 326.1,297.4 329.5,302.8 329.5,308.1 324.8,309.4 321.4,304.8 314.8,300.8 308.8,300.1 306.8,302.8 306.1,295.4 306.1,290.8 305.4,280.7 298.8,278.7 297.4,268.1 296.1,264.7"/>
<path d="M276.1,293.4 279.4,289.4 286.7,288.1 292.1,288.1 293.4,292.1 298.8,295.4 304.1,294.8 306.8,297.4 306.1,302.8 301.4,306.8 301.4,313.4 302.8,316.8 260.0,316.8 260.7,303.4 256.0,301.4 260.7,296.8 266.0,297.4 271.4,298.8Z" fill="#88c4ea" stroke="none"/>
<path d="M276.1,293.4 279.4,289.4 286.7,288.1 292.1,288.1 293.4,292.1 298.8,295.4 304.1,294.8 306.8,297.4 306.1,302.8 301.4,306.8 301.4,313.4 302.8,316.8 M260.0,316.8 260.7,303.4 256.0,301.4 260.7,296.8 266.0,297.4 271.4,298.8 276.1,293.4"/>
<path d="M324.8,309.4 330.8,308.1 340.1,305.4 345.5,306.8 349.5,310.8 350.8,316.8 324.8,316.8Z" fill="#88c4ea" stroke="none"/>
<path d="M324.8,309.4 330.8,308.1 340.1,305.4 345.5,306.8 349.5,310.8 350.8,316.8 M324.8,316.8 324.8,309.4"/>
<path d="M244.0,227.3 289.4,227.3 289.4,244.7 270.7,244.7 268.7,238.0 262.7,237.3 260.0,240.7 254.7,238.7 244.0,239.3Z" fill="#2a85c1" stroke="none"/>
<path d="M289.4,227.3 289.4,244.7 270.7,244.7 268.7,238.0 262.7,237.3 260.0,240.7 254.7,238.7 244.0,239.3 244.0,227.3"/>
<path d="M290.7,227.3 301.4,227.3 299.4,233.3 290.7,234.0Z" fill="#59b0e2" stroke="none"/>
<path d="M301.4,227.3 299.4,233.3 290.7,234.0 290.7,227.3"/>
<path d="M304.1,227.3 332.1,227.3 334.1,237.3 330.8,242.0 326.8,239.3 321.4,237.3 314.8,235.3 306.8,233.3Z" fill="#264c8c" stroke="none"/>
<path d="M332.1,227.3 334.1,237.3 330.8,242.0 326.8,239.3 321.4,237.3 314.8,235.3 306.8,233.3 304.1,227.3"/>
<path d="M290.7,234.7 299.4,233.3 301.4,229.3 304.1,230.7 306.8,233.3 314.8,235.3 321.4,237.3 326.8,239.3 330.8,242.0 331.5,249.4 290.7,248.7Z" fill="#2a85c1" stroke="none"/>
<path d="M290.7,234.7 299.4,233.3 301.4,229.3 304.1,230.7 306.8,233.3 314.8,235.3 321.4,237.3 326.8,239.3 330.8,242.0 331.5,249.4 290.7,248.7 290.7,234.7"/>
<path d="M345.5,227.3 360.8,227.3 360.8,230.7 355.5,234.0 350.8,232.0Z" fill="#2868a8" stroke="none"/>
<path d="M360.8,230.7 355.5,234.0 350.8,232.0 345.5,227.3"/>
<path d="M354.8,236.0 360.8,234.7 360.8,240.0 356.2,240.0Z" fill="#2a85c1" stroke="none"/>
<path d="M354.8,236.0 360.8,234.7 M360.8,240.0 356.2,240.0 354.8,236.0"/>
<path d="M352.2,241.4 360.8,241.4 360.8,245.4 353.5,244.7Z" fill="#b5d9f4" stroke="none"/>
<path d="M352.2,241.4 360.8,241.4 M360.8,245.4 353.5,244.7 352.2,241.4"/>
<path d="M336.8,246.7 360.8,245.4 360.8,258.0 356.2,256.7 348.8,255.4 336.1,254.7Z" fill="#2a85c1" stroke="none"/>
<path d="M336.8,246.7 360.8,245.4 M360.8,258.0 356.2,256.7 348.8,255.4 336.1,254.7 336.8,246.7"/>
<path d="M290.7,250.0 318.8,250.7 321.4,256.0 324.8,261.4 326.8,264.0 316.1,264.7 310.8,262.7 304.1,263.4 301.4,258.7 297.4,256.0 293.4,256.7 290.1,256.0Z" fill="#59b0e2" stroke="none"/>
<path d="M290.7,250.0 318.8,250.7 321.4,256.0 324.8,261.4 326.8,264.0 316.1,264.7 310.8,262.7 304.1,263.4 301.4,258.7 297.4,256.0 293.4,256.7 290.1,256.0 290.7,250.0"/>
<path d="M341.5,261.4 348.1,260.0 360.8,258.0 360.8,285.4 356.2,284.7 352.2,280.1 349.5,274.7 345.5,276.1 337.5,278.1 336.8,270.7 340.1,268.7Z" fill="#e0ecfb" stroke="none"/>
<path d="M341.5,261.4 348.1,260.0 360.8,258.0 M360.8,285.4 356.2,284.7 352.2,280.1 349.5,274.7 345.5,276.1 337.5,278.1 336.8,270.7 340.1,268.7 341.5,261.4"/>
<path d="M332.1,278.7 337.5,278.1 345.5,276.1 349.5,274.7 352.2,280.1 356.2,284.7 360.8,285.4 360.8,300.1 352.2,298.8 345.5,296.1 340.1,292.1 336.1,285.4Z" fill="#b5d9f4" stroke="none"/>
<path d="M332.1,278.7 337.5,278.1 345.5,276.1 349.5,274.7 352.2,280.1 356.2,284.7 360.8,285.4 M360.8,300.1 352.2,298.8 345.5,296.1 340.1,292.1 336.1,285.4 332.1,278.7"/>
<path d="M272.7,263.4 277.4,260.0 285.4,259.4 289.4,256.7 293.4,256.7 297.4,256.0 301.4,258.7 302.8,262.7 296.1,264.7 293.4,266.7 293.4,270.7 287.4,273.4 284.7,275.4 284.1,280.1 278.7,280.7 277.4,275.4 272.0,274.1Z" fill="#b5d9f4" stroke="none"/>
<path d="M272.7,263.4 277.4,260.0 285.4,259.4 289.4,256.7 293.4,256.7 297.4,256.0 301.4,258.7 302.8,262.7 296.1,264.7 293.4,266.7 293.4,270.7 287.4,273.4 284.7,275.4 284.1,280.1 278.7,280.7 277.4,275.4 272.0,274.1 272.7,263.4"/>
<path d="M244.0,264.7 261.4,263.4 264.7,262.0 266.0,266.7 269.4,266.7 272.0,263.4 272.0,274.1 277.4,275.4 278.7,280.7 279.4,289.4 276.1,293.4 271.4,298.8 266.0,297.4 260.7,296.8 256.0,301.4 251.4,302.1 244.0,302.1Z" fill="#59b0e2" stroke="none"/>
<path d="M244.0,264.7 261.4,263.4 264.7,262.0 266.0,266.7 269.4,266.7 272.0,263.4 272.0,274.1 277.4,275.4 278.7,280.7 279.4,289.4 276.1,293.4 271.4,298.8 266.0,297.4 260.7,296.8 256.0,301.4 251.4,302.1 244.0,302.1 244.0,264.7"/>
<path d="M244.0,286.7 252.0,287.4 250.7,292.1 249.4,297.4 244.0,297.4Z" fill="#2a85c1" stroke="none"/>
<path d="M244.0,286.7 252.0,287.4 250.7,292.1 249.4,297.4 244.0,297.4 244.0,286.7"/>
<path d="M284.7,275.4 287.4,273.4 293.4,270.7 294.7,266.7 297.4,268.1 298.8,278.7 305.4,280.7 306.1,290.8 304.1,294.8 298.8,295.4 293.4,292.1 292.1,288.1 286.7,288.1 279.4,289.4 278.7,280.7 284.1,280.1Z" fill="#59b0e2" stroke="none"/>
<path d="M284.7,275.4 287.4,273.4 293.4,270.7 294.7,266.7 297.4,268.1 298.8,278.7 305.4,280.7 306.1,290.8 304.1,294.8 298.8,295.4 293.4,292.1 292.1,288.1 286.7,288.1 279.4,289.4 278.7,280.7 284.1,280.1 284.7,275.4"/>
<path d="M327.5,285.4 333.5,284.1 336.1,285.4 340.1,292.1 345.5,296.1 352.2,298.8 354.8,302.8 355.5,316.8 350.8,316.8 349.5,310.8 345.5,306.8 340.1,305.4 330.8,308.1 329.5,302.8 326.1,297.4Z" fill="#59b0e2" stroke="none"/>
<path d="M327.5,285.4 333.5,284.1 336.1,285.4 340.1,292.1 345.5,296.1 352.2,298.8 354.8,302.8 355.5,316.8 M350.8,316.8 349.5,310.8 345.5,306.8 340.1,305.4 330.8,308.1 329.5,302.8 326.1,297.4 327.5,285.4"/>
<path d="M356.2,301.4 360.8,300.8 360.8,316.8 356.2,316.8Z" fill="#59b0e2" stroke="none"/>
<path d="M356.2,301.4 360.8,300.8 M356.2,316.8 356.2,301.4"/>
<path d="M302.1,306.8 306.8,302.8 308.8,300.1 314.8,300.8 321.4,304.8 324.8,309.4 324.8,316.8 302.8,316.8 301.4,313.4Z" fill="#2a85c1" stroke="none"/>
<path d="M302.1,306.8 306.8,302.8 308.8,300.1 314.8,300.8 321.4,304.8 324.8,309.4 324.8,316.8 M302.8,316.8 301.4,313.4 302.1,306.8"/>
<path d="M244.0,302.8 260.7,303.4 260.0,307.4 257.4,308.1 258.0,316.8 244.0,316.8Z" fill="#2a85c1" stroke="none"/>
<path d="M244.0,302.8 260.7,303.4 260.0,307.4 257.4,308.1 258.0,316.8 M244.0,316.8 244.0,302.8"/>
<path d="M389.4,253.4 392.0,257.4 396.0,254.7 396.7,248.0 400.1,245.4 405.4,242.7 409.4,240.0 411.4,234.7 413.4,227.3 440.8,227.3 440.8,236.0 425.4,236.7 424.8,274.7 413.4,274.1 410.7,270.7 404.1,268.1 388.7,266.7Z" fill="#88c4ea" stroke="none"/>
<path d="M389.4,253.4 392.0,257.4 396.0,254.7 396.7,248.0 400.1,245.4 405.4,242.7 409.4,240.0 411.4,234.7 413.4,227.3 M440.8,227.3 440.8,236.0 425.4,236.7 424.8,274.7 413.4,274.1 410.7,270.7 404.1,268.1 388.7,266.7 389.4,253.4"/>
<path d="M458.1,227.3 473.5,227.3 472.1,237.3 458.1,237.3Z" fill="#88c4ea" stroke="none"/>
<path d="M473.5,227.3 472.1,237.3 458.1,237.3 458.1,227.3"/>
<path d="M373.4,266.7 376.0,268.1 381.4,274.7 384.7,276.7 388.0,284.1 388.7,294.8 382.7,298.8 383.4,308.1 385.4,313.4 384.7,316.8 376.0,316.8 372.0,305.4 372.7,300.1 369.3,298.8 370.7,292.1 368.0,281.4 372.7,274.7Z" fill="#88c4ea" stroke="none"/>
<path d="M373.4,266.7 376.0,268.1 381.4,274.7 384.7,276.7 388.0,284.1 388.7,294.8 382.7,298.8 383.4,308.1 385.4,313.4 384.7,316.8 M376.0,316.8 372.0,305.4 372.7,300.1 369.3,298.8 370.7,292.1 368.0,281.4 372.7,274.7 373.4,266.7"/>
<path d="M417.4,308.8 422.1,310.1 422.8,306.8 438.8,306.8 444.8,308.1 445.4,299.4 456.1,300.1 453.5,305.4 453.5,316.8 384.7,316.8 385.4,313.4 404.1,313.4 406.7,308.1 413.4,308.1Z" fill="#88c4ea" stroke="none"/>
<path d="M417.4,308.8 422.1,310.1 422.8,306.8 438.8,306.8 444.8,308.1 445.4,299.4 456.1,300.1 453.5,305.4 453.5,316.8 M384.7,316.8 385.4,313.4 404.1,313.4 406.7,308.1 413.4,308.1 417.4,308.8"/>
<path d="M461.5,298.8 470.8,298.1 480.2,300.1 481.5,308.1 480.2,316.8 464.1,316.8 464.8,309.4 461.5,306.8Z" fill="#88c4ea" stroke="none"/>
<path d="M461.5,298.8 470.8,298.1 480.2,300.1 481.5,308.1 480.2,316.8 M464.1,316.8 464.8,309.4 461.5,306.8 461.5,298.8"/>
<path d="M386.7,227.3 413.4,227.3 411.4,234.7 409.4,240.0 405.4,242.7 400.1,245.4 395.4,244.0 396.0,236.0 400.1,232.0 400.1,227.3Z" fill="#b5d9f4" stroke="none"/>
<path d="M413.4,227.3 411.4,234.7 409.4,240.0 405.4,242.7 400.1,245.4 395.4,244.0 396.0,236.0 400.1,232.0 400.1,227.3"/>
<path d="M370.0,234.7 374.7,232.0 380.0,231.3 386.7,227.3 400.1,227.3 400.1,232.0 396.0,236.0 390.7,237.3 388.0,234.7 383.4,236.0 381.4,240.0 380.0,244.0 373.4,244.0 370.7,241.4Z" fill="#e0ecfb" stroke="none"/>
<path d="M370.0,234.7 374.7,232.0 380.0,231.3 386.7,227.3 M400.1,227.3 400.1,232.0 396.0,236.0 390.7,237.3 388.0,234.7 383.4,236.0 381.4,240.0 380.0,244.0 373.4,244.0 370.7,241.4 370.0,234.7"/>
<path d="M382.0,248.7 388.7,248.0 389.4,243.4 395.4,244.0 396.7,248.0 396.0,254.7 392.0,257.4 389.4,253.4 382.0,253.4Z" fill="#e0ecfb" stroke="none"/>
<path d="M382.0,248.7 388.7,248.0 389.4,243.4 395.4,244.0 396.7,248.0 396.0,254.7 392.0,257.4 389.4,253.4 382.0,253.4 382.0,248.7"/>
<path d="M381.4,240.0 383.4,236.0 388.0,234.7 390.7,237.3 394.7,240.0 389.4,242.7 388.7,248.0 384.0,248.0Z" fill="#59b0e2" stroke="none"/>
<path d="M381.4,240.0 383.4,236.0 388.0,234.7 390.7,237.3 394.7,240.0 389.4,242.7 388.7,248.0 384.0,248.0 381.4,240.0"/>
<path d="M362.7,232.7 372.7,232.0 370.7,234.7 364.0,235.3Z" fill="#59b0e2" stroke="none"/>
<path d="M362.7,232.7 372.7,232.0 370.7,234.7 364.0,235.3 362.7,232.7"/>
<path d="M359.3,236.0 370.0,236.0 370.7,241.4 368.0,245.4 359.3,246.7Z" fill="#b5d9f4" stroke="none"/>
<path d="M359.3,236.0 370.0,236.0 370.7,241.4 368.0,245.4 359.3,246.7"/>
<path d="M359.3,247.4 367.3,246.7 366.7,249.4 361.3,251.4 359.3,254.7Z" fill="#2a85c1" stroke="none"/>
<path d="M359.3,247.4 367.3,246.7 366.7,249.4 361.3,251.4 359.3,254.7"/>
<path d="M368.0,245.4 373.4,244.0 380.0,244.0 384.0,248.0 382.0,248.7 382.0,253.4 389.4,253.4 388.7,266.7 404.1,268.1 410.7,270.7 413.4,274.1 406.1,278.7 405.4,284.1 400.1,282.7 397.4,278.7 393.4,280.1 389.4,277.4 384.7,276.7 381.4,274.7 376.0,268.1 375.4,261.4 373.4,258.7 366.7,259.4 364.0,256.0 361.3,254.7 361.3,251.4 366.7,249.4Z" fill="#59b0e2" stroke="none"/>
<path d="M368.0,245.4 373.4,244.0 380.0,244.0 384.0,248.0 382.0,248.7 382.0,253.4 389.4,253.4 388.7,266.7 404.1,268.1 410.7,270.7 413.4,274.1 406.1,278.7 405.4,284.1 400.1,282.7 397.4,278.7 393.4,280.1 389.4,277.4 384.7,276.7 381.4,274.7 376.0,268.1 375.4,261.4 373.4,258.7 366.7,259.4 364.0,256.0 361.3,254.7 361.3,251.4 366.7,249.4 368.0,245.4"/>
<path d="M441.4,227.3 458.1,227.3 457.5,236.0 441.4,236.0Z" fill="#2a85c1" stroke="none"/>
<path d="M458.1,227.3 457.5,236.0 441.4,236.0 441.4,227.3"/>
<path d="M458.1,237.3 472.1,237.3 473.5,230.0 484.8,229.3 484.8,273.4 477.5,272.1 474.8,269.4 474.2,260.0 465.5,259.4 464.8,245.4 457.5,244.7Z" fill="#59b0e2" stroke="none"/>
<path d="M458.1,237.3 472.1,237.3 473.5,230.0 484.8,229.3 M484.8,273.4 477.5,272.1 474.8,269.4 474.2,260.0 465.5,259.4 464.8,245.4 457.5,244.7 458.1,237.3"/>
<path d="M426.1,236.7 433.4,236.7 434.1,241.4 437.4,245.4 438.8,252.0 438.1,260.0 432.8,259.4 432.8,252.7 426.1,252.7Z" fill="#b5d9f4" stroke="none"/>
<path d="M426.1,236.7 433.4,236.7 434.1,241.4 437.4,245.4 438.8,252.0 438.1,260.0 432.8,259.4 432.8,252.7 426.1,252.7 426.1,236.7"/>
<path d="M426.4,253.4 432.1,253.4 432.1,258.7 426.4,258.7Z" fill="#2a85c1" stroke="none"/>
<path d="M426.4,253.4 432.1,253.4 432.1,258.7 426.4,258.7 426.4,253.4"/>
<path d="M434.1,238.0 456.8,238.0 457.5,244.7 464.8,245.4 465.5,259.4 474.2,260.0 474.8,269.4 472.1,272.1 465.5,265.4 464.1,272.7 446.8,272.1 446.1,274.7 439.4,274.7 437.4,268.1 439.4,260.7 438.1,260.0 438.8,252.0 437.4,245.4 434.1,241.4Z" fill="#2a85c1" stroke="none"/>
<path d="M434.1,238.0 456.8,238.0 457.5,244.7 464.8,245.4 465.5,259.4 474.2,260.0 474.8,269.4 472.1,272.1 465.5,265.4 464.1,272.7 446.8,272.1 446.1,274.7 439.4,274.7 437.4,268.1 439.4,260.7 438.1,260.0 438.8,252.0 437.4,245.4 434.1,241.4 434.1,238.0"/>
<path d="M425.0,260.7 438.1,260.0 439.4,260.7 437.4,268.1 437.4,274.7 425.0,274.7Z" fill="#2a85c1" stroke="none"/>
<path d="M425.0,260.7 438.1,260.0 439.4,260.7 437.4,268.1 437.4,274.7 425.0,274.7 425.0,260.7"/>
<path d="M406.1,278.7 413.4,275.4 436.1,275.8 436.1,282.7 432.8,283.4 432.8,285.4 436.8,286.1 436.1,293.4 439.4,296.1 440.1,300.8 438.8,306.8 422.8,306.8 422.1,310.1 417.4,308.8 416.7,301.4 416.1,294.8 412.1,289.4 409.4,285.4Z" fill="#264c8c" stroke="none"/>
<path d="M406.1,278.7 413.4,275.4 436.1,275.8 436.1,282.7 432.8,283.4 432.8,285.4 436.8,286.1 436.1,293.4 439.4,296.1 440.1,300.8 438.8,306.8 422.8,306.8 422.1,310.1 417.4,308.8 416.7,301.4 416.1,294.8 412.1,289.4 409.4,285.4 406.1,278.7"/>
<path d="M409.4,280.7 411.4,280.7 412.3,284.1 410.5,284.7Z" fill="#b5d9f4" stroke="none"/>
<path d="M409.4,280.7 411.4,280.7 412.3,284.1 410.5,284.7 409.4,280.7"/>
<path d="M436.8,275.8 441.4,275.8 443.4,289.4 444.8,294.8 444.8,308.1 439.4,307.4 440.1,300.8 439.4,296.1 436.1,293.4 436.8,286.1Z" fill="#b5d9f4" stroke="none"/>
<path d="M436.8,275.8 441.4,275.8 443.4,289.4 444.8,294.8 444.8,308.1 439.4,307.4 440.1,300.8 439.4,296.1 436.1,293.4 436.8,286.1 436.8,275.8"/>
<path d="M442.1,275.4 446.1,274.7 446.8,272.1 464.1,272.7 465.5,265.4 472.1,272.1 470.8,281.4 466.8,284.1 469.5,292.1 461.5,293.4 461.5,298.8 445.4,298.8 443.4,289.4Z" fill="#2a85c1" stroke="none"/>
<path d="M442.1,275.4 446.1,274.7 446.8,272.1 464.1,272.7 465.5,265.4 472.1,272.1 470.8,281.4 466.8,284.1 469.5,292.1 461.5,293.4 461.5,298.8 445.4,298.8 443.4,289.4 442.1,275.4"/>
<path d="M466.8,284.1 470.8,281.4 473.5,274.1 477.5,272.1 484.8,274.7 484.8,302.8 480.2,300.1 470.8,298.1 462.8,296.1 461.5,293.4 469.5,292.1Z" fill="#2868a8" stroke="none"/>
<path d="M466.8,284.1 470.8,281.4 473.5,274.1 477.5,272.1 484.8,274.7 M484.8,302.8 480.2,300.1 470.8,298.1 462.8,296.1 461.5,293.4 469.5,292.1 466.8,284.1"/>
<path d="M456.1,300.1 460.8,300.1 461.5,306.8 464.8,309.4 464.1,316.8 453.5,316.8 453.5,305.4Z" fill="#2a85c1" stroke="none"/>
<path d="M456.1,300.1 460.8,300.1 461.5,306.8 464.8,309.4 464.1,316.8 M453.5,316.8 453.5,305.4 456.1,300.1"/>
<path d="M481.5,302.8 484.8,302.8 484.8,316.8 480.2,316.8Z" fill="#59b0e2" stroke="none"/>
<path d="M481.5,302.8 484.8,302.8 M480.2,316.8 481.5,302.8"/>
<path d="M359.3,266.7 373.4,266.7 372.7,274.7 368.0,281.4 365.3,284.1 359.3,284.1Z" fill="#e0ecfb" stroke="none"/>
<path d="M359.3,266.7 373.4,266.7 372.7,274.7 368.0,281.4 365.3,284.1 359.3,284.1"/>
<path d="M359.3,284.1 365.3,284.1 368.0,281.4 370.7,292.1 369.3,298.8 362.7,301.4 359.3,302.1Z" fill="#b5d9f4" stroke="none"/>
<path d="M359.3,284.1 365.3,284.1 368.0,281.4 370.7,292.1 369.3,298.8 362.7,301.4 359.3,302.1"/>
<path d="M359.3,302.1 362.7,301.4 369.3,298.8 372.7,300.1 372.0,305.4 376.0,316.8 359.3,316.8Z" fill="#59b0e2" stroke="none"/>
<path d="M359.3,302.1 362.7,301.4 369.3,298.8 372.7,300.1 372.0,305.4 376.0,316.8"/>
<path d="M384.7,276.7 389.4,277.4 393.4,280.1 397.4,278.7 400.1,282.7 405.4,284.1 409.4,285.4 412.1,289.4 416.1,294.8 416.7,301.4 417.4,308.8 413.4,308.1 406.7,308.1 404.1,313.4 386.7,313.4 385.4,313.4 383.4,308.1 382.7,298.8 388.7,294.8 388.0,284.1Z" fill="#59b0e2" stroke="none"/>
<path d="M384.7,276.7 389.4,277.4 393.4,280.1 397.4,278.7 400.1,282.7 405.4,284.1 409.4,285.4 412.1,289.4 416.1,294.8 416.7,301.4 417.4,308.8 413.4,308.1 406.7,308.1 404.1,313.4 386.7,313.4 385.4,313.4 383.4,308.1 382.7,298.8 388.7,294.8 388.0,284.1 384.7,276.7"/>
<path d="M517.4,227.3 534.7,227.3 534.7,234.7 531.4,236.0 532.1,242.7 540.1,247.4 564.1,247.4 564.1,288.1 514.7,288.1 510.7,284.1 507.4,277.4 509.4,273.4 515.4,268.1 515.4,261.4 516.7,254.7 516.0,248.0 517.4,241.4Z" fill="#272e72" stroke="none"/>
<path d="M534.7,227.3 534.7,234.7 531.4,236.0 532.1,242.7 540.1,247.4 564.1,247.4 564.1,288.1 514.7,288.1 510.7,284.1 507.4,277.4 509.4,273.4 515.4,268.1 515.4,261.4 516.7,254.7 516.0,248.0 517.4,241.4 517.4,227.3"/>
<path d="M534.7,227.3 544.1,227.3 543.4,234.7 546.1,238.7 546.1,242.7 543.4,245.4 542.7,247.4 540.1,247.4 532.1,242.7 531.4,236.0 534.7,234.7Z" fill="#2a85c1" stroke="none"/>
<path d="M544.1,227.3 543.4,234.7 546.1,238.7 546.1,242.7 543.4,245.4 542.7,247.4 540.1,247.4 532.1,242.7 531.4,236.0 534.7,234.7 534.7,227.3"/>
<path d="M544.7,227.3 564.1,227.3 564.1,253.4 544.3,253.4 544.3,247.4 542.7,247.4 543.4,245.4 546.1,242.7 546.1,238.7 543.4,234.7Z" fill="#2868a8" stroke="none"/>
<path d="M564.1,227.3 564.1,253.4 544.3,253.4 544.3,247.4 542.7,247.4 543.4,245.4 546.1,242.7 546.1,238.7 543.4,234.7 544.7,227.3"/>
<path d="M483.3,227.3 516.7,227.3 517.4,241.4 516.0,248.0 516.7,254.7 515.4,261.4 515.4,268.1 509.4,273.4 507.4,277.4 510.7,284.1 509.4,286.7 504.0,284.1 500.0,286.1 496.0,280.7 492.0,285.4 488.0,278.7 486.7,273.4 483.3,274.1Z" fill="#59b0e2" stroke="none"/>
<path d="M516.7,227.3 517.4,241.4 516.0,248.0 516.7,254.7 515.4,261.4 515.4,268.1 509.4,273.4 507.4,277.4 510.7,284.1 509.4,286.7 504.0,284.1 500.0,286.1 496.0,280.7 492.0,285.4 488.0,278.7 486.7,273.4 483.3,274.1"/>
<path d="M483.3,274.1 486.7,273.4 488.0,278.7 492.0,282.7 494.7,281.4 492.0,285.4 494.7,288.1 494.7,300.1 486.7,300.8 486.0,302.8 483.3,302.8Z" fill="#2868a8" stroke="none"/>
<path d="M483.3,274.1 486.7,273.4 488.0,278.7 492.0,282.7 494.7,281.4 492.0,285.4 494.7,288.1 494.7,300.1 486.7,300.8 486.0,302.8 483.3,302.8"/>
<path d="M492.0,285.4 496.0,280.7 500.0,286.1 504.0,284.1 509.4,286.7 510.7,284.1 514.7,285.4 564.1,285.4 564.1,316.8 483.3,316.8 483.3,302.8 486.0,302.8 486.7,300.8 494.7,300.1 494.7,288.1Z" fill="#59b0e2" stroke="none"/>
<path d="M492.0,285.4 496.0,280.7 500.0,286.1 504.0,284.1 509.4,286.7 510.7,284.1 514.7,285.4 564.1,285.4 564.1,316.8 M483.3,302.8 486.0,302.8 486.7,300.8 494.7,300.1 494.7,288.1 492.0,285.4"/>
<path d="M284.1,340.7 292.1,341.4 297.4,344.7 302.8,347.4 308.1,350.7 304.1,354.1 300.1,356.7 294.7,360.8 297.4,370.1 279.4,370.1 280.7,347.4 283.4,349.4Z" fill="#88c4ea" stroke="none"/>
<path d="M284.1,340.7 292.1,341.4 297.4,344.7 302.8,347.4 308.1,350.7 304.1,354.1 300.1,356.7 294.7,360.8 297.4,370.1 279.4,370.1 280.7,347.4 283.4,349.4 284.1,340.7"/>
<path d="M324.8,306.0 332.1,308.0 341.5,305.3 346.8,310.0 352.2,315.4 357.5,318.0 353.5,330.0 354.2,336.7 360.8,338.1 360.8,355.4 352.2,359.4 346.8,354.1 341.5,359.4 334.8,363.4 332.1,360.8 332.1,349.4 328.8,348.7 330.8,338.1 332.8,332.0 330.8,328.0 324.8,328.4Z" fill="#88c4ea" stroke="none"/>
<path d="M324.8,306.0 332.1,308.0 341.5,305.3 346.8,310.0 352.2,315.4 357.5,318.0 353.5,330.0 354.2,336.7 360.8,338.1 M360.8,355.4 352.2,359.4 346.8,354.1 341.5,359.4 334.8,363.4 332.1,360.8 332.1,349.4 328.8,348.7 330.8,338.1 332.8,332.0 330.8,328.0 324.8,328.4 324.8,306.0"/>
<path d="M244.0,302.7 260.7,303.3 260.0,307.3 257.4,308.0 258.7,322.0 244.0,322.0Z" fill="#2a85c1" stroke="none"/>
<path d="M244.0,302.7 260.7,303.3 260.0,307.3 257.4,308.0 258.7,322.0 244.0,322.0 244.0,302.7"/>
<path d="M302.1,305.3 306.8,303.3 308.8,299.3 314.8,300.0 317.4,303.3 324.1,306.0 324.8,328.0 316.1,327.4 316.1,316.7 313.4,314.0 304.8,314.0 304.8,326.7 301.4,323.4 298.8,318.0 295.4,314.0 301.4,314.7Z" fill="#2a85c1" stroke="none"/>
<path d="M302.1,305.3 306.8,303.3 308.8,299.3 314.8,300.0 317.4,303.3 324.1,306.0 324.8,328.0 316.1,327.4 316.1,316.7 313.4,314.0 304.8,314.0 304.8,326.7 301.4,323.4 298.8,318.0 295.4,314.0 301.4,314.7 302.1,305.3"/>
<path d="M279.4,322.0 289.4,319.4 294.7,316.7 298.8,318.0 301.4,323.4 304.8,326.7 296.1,332.0 287.4,331.4 286.1,338.1 284.1,340.7 283.4,349.4 279.4,347.4Z" fill="#2a85c1" stroke="none"/>
<path d="M279.4,322.0 289.4,319.4 294.7,316.7 298.8,318.0 301.4,323.4 304.8,326.7 296.1,332.0 287.4,331.4 286.1,338.1 284.1,340.7 283.4,349.4 279.4,347.4 279.4,322.0"/>
<path d="M296.1,332.0 301.4,329.4 304.8,328.0 316.1,328.0 324.8,328.4 330.8,328.0 332.8,332.0 330.8,338.1 328.8,348.7 324.1,350.7 308.1,350.7 302.8,347.4 301.4,338.1 299.4,334.7Z" fill="#264c8c" stroke="none"/>
<path d="M296.1,332.0 301.4,329.4 304.8,328.0 316.1,328.0 324.8,328.4 330.8,328.0 332.8,332.0 330.8,338.1 328.8,348.7 324.1,350.7 308.1,350.7 302.8,347.4 301.4,338.1 299.4,334.7 296.1,332.0"/>
<path d="M287.4,331.4 296.1,332.0 299.4,334.7 301.4,338.1 302.1,346.7 297.4,344.7 292.1,341.4 286.1,340.7 286.1,338.1Z" fill="#b5d9f4" stroke="none"/>
<path d="M287.4,331.4 296.1,332.0 299.4,334.7 301.4,338.1 302.1,346.7 297.4,344.7 292.1,341.4 286.1,340.7 286.1,338.1 287.4,331.4"/>
<path d="M308.1,350.7 324.1,350.7 328.8,348.7 332.1,349.4 332.1,360.8 334.8,363.4 341.5,359.4 346.8,354.1 352.2,359.4 360.8,355.4 360.8,370.1 297.4,370.1 294.7,360.8 300.1,356.7 304.1,354.1Z" fill="#b5d9f4" stroke="none"/>
<path d="M308.1,350.7 324.1,350.7 328.8,348.7 332.1,349.4 332.1,360.8 334.8,363.4 341.5,359.4 346.8,354.1 352.2,359.4 360.8,355.4 M360.8,370.1 297.4,370.1 294.7,360.8 300.1,356.7 304.1,354.1 308.1,350.7"/>
<path d="M326.8,297.3 353.5,297.3 354.8,301.3 356.2,315.4 357.5,318.0 352.2,315.4 346.8,310.0 341.5,305.3 332.1,308.0 329.5,303.3Z" fill="#59b0e2" stroke="none"/>
<path d="M353.5,297.3 354.8,301.3 356.2,315.4 357.5,318.0 352.2,315.4 346.8,310.0 341.5,305.3 332.1,308.0 329.5,303.3 326.8,297.3"/>
<path d="M356.2,301.3 360.8,301.3 360.8,338.1 354.2,336.7 353.5,330.0 357.5,318.0 356.2,315.4Z" fill="#59b0e2" stroke="none"/>
<path d="M356.2,301.3 360.8,301.3 M360.8,338.1 354.2,336.7 353.5,330.0 357.5,318.0 356.2,315.4 356.2,301.3"/>
<path d="M304.8,314.0 313.4,314.0 316.1,316.7 316.1,327.4 304.8,326.7Z" fill="#88c4ea" stroke="none"/>
<path d="M304.8,314.0 313.4,314.0 316.1,316.7 316.1,327.4 304.8,326.7 304.8,314.0"/>
<path d="M370.7,297.3 383.4,297.3 383.4,306.0 386.0,311.4 384.0,315.4 386.0,320.0 382.7,323.4 377.4,316.7 372.0,306.0Z" fill="#88c4ea" stroke="none"/>
<path d="M383.4,297.3 383.4,306.0 386.0,311.4 384.0,315.4 386.0,320.0 382.7,323.4 377.4,316.7 372.0,306.0 370.7,297.3"/>
<path d="M417.4,311.4 422.8,307.3 444.1,308.0 444.1,323.4 432.8,323.4 432.1,326.0 429.4,321.4 425.4,318.7 420.7,319.4 417.4,318.0Z" fill="#88c4ea" stroke="none"/>
<path d="M417.4,311.4 422.8,307.3 444.1,308.0 444.1,323.4 432.8,323.4 432.1,326.0 429.4,321.4 425.4,318.7 420.7,319.4 417.4,318.0 417.4,311.4"/>
<path d="M444.1,297.3 484.8,297.3 484.8,370.8 436.1,370.8 432.1,363.4 433.4,359.4 431.4,356.7 432.8,352.7 438.8,347.4 444.8,343.4 444.8,336.1 442.1,330.0 442.1,324.0 444.1,323.4Z" fill="#88c4ea" stroke="none"/>
<path d="M484.8,370.8 436.1,370.8 432.1,363.4 433.4,359.4 431.4,356.7 432.8,352.7 438.8,347.4 444.8,343.4 444.8,336.1 442.1,330.0 442.1,324.0 444.1,323.4 444.1,297.3"/>
<path d="M359.3,337.4 375.4,336.7 376.0,334.0 381.4,330.7 384.0,329.4 391.4,332.7 396.0,336.1 401.4,342.1 398.7,344.7 392.0,344.1 390.7,346.7 380.0,346.1 377.4,352.7 382.7,355.4 386.7,354.1 393.4,359.4 396.0,364.8 400.1,370.8 359.3,370.8Z" fill="#88c4ea" stroke="none"/>
<path d="M359.3,337.4 375.4,336.7 376.0,334.0 381.4,330.7 384.0,329.4 391.4,332.7 396.0,336.1 401.4,342.1 398.7,344.7 392.0,344.1 390.7,346.7 380.0,346.1 377.4,352.7 382.7,355.4 386.7,354.1 393.4,359.4 396.0,364.8 400.1,370.8 359.3,370.8"/>
<path d="M359.3,301.3 370.7,297.3 372.0,306.0 377.4,316.7 382.7,323.4 384.0,329.4 381.4,330.7 376.0,334.0 375.4,336.7 359.3,337.4Z" fill="#59b0e2" stroke="none"/>
<path d="M370.7,297.3 372.0,306.0 377.4,316.7 382.7,323.4 384.0,329.4 381.4,330.7 376.0,334.0 375.4,336.7 359.3,337.4"/>
<path d="M359.3,297.3 369.3,297.3 365.3,300.7 359.3,301.3Z" fill="#b5d9f4" stroke="none"/>
<path d="M369.3,297.3 365.3,300.7 359.3,301.3"/>
<path d="M383.4,297.3 404.1,297.3 413.4,300.7 417.4,306.0 416.7,310.7 412.1,308.7 406.7,307.3 406.1,311.4 408.7,313.4 397.4,313.4 394.7,311.4 390.0,312.7 386.0,311.4 383.4,306.0Z" fill="#59b0e2" stroke="none"/>
<path d="M404.1,297.3 413.4,300.7 417.4,306.0 416.7,310.7 412.1,308.7 406.7,307.3 406.1,311.4 408.7,313.4 397.4,313.4 394.7,311.4 390.0,312.7 386.0,311.4 383.4,306.0 383.4,297.3"/>
<path d="M386.0,320.0 384.0,315.4 386.0,311.4 390.0,312.7 394.7,311.4 397.4,313.4 408.7,313.4 406.1,311.4 406.7,307.3 412.1,308.7 416.7,310.7 417.4,315.4 417.4,326.0 414.7,334.0 412.1,340.7 413.4,344.1 410.7,346.1 406.1,345.4 404.1,342.1 401.4,342.1 396.0,336.1 391.4,332.7 384.0,329.4 382.7,323.4Z" fill="#59b0e2" stroke="none"/>
<path d="M386.0,320.0 384.0,315.4 386.0,311.4 390.0,312.7 394.7,311.4 397.4,313.4 408.7,313.4 406.1,311.4 406.7,307.3 412.1,308.7 416.7,310.7 417.4,315.4 417.4,326.0 414.7,334.0 412.1,340.7 413.4,344.1 410.7,346.1 406.1,345.4 404.1,342.1 401.4,342.1 396.0,336.1 391.4,332.7 384.0,329.4 382.7,323.4 386.0,320.0"/>
<path d="M416.7,297.3 440.1,297.3 438.8,302.0 438.1,306.7 422.8,307.3 422.1,310.0 417.4,309.3 416.7,303.3Z" fill="#264c8c" stroke="none"/>
<path d="M440.1,297.3 438.8,302.0 438.1,306.7 422.8,307.3 422.1,310.0 417.4,309.3 416.7,303.3 416.7,297.3"/>
<path d="M438.8,302.0 440.1,297.3 444.8,297.3 444.1,307.3 438.8,306.7Z" fill="#b5d9f4" stroke="none"/>
<path d="M438.8,302.0 440.1,297.3 M444.8,297.3 444.1,307.3 438.8,306.7 438.8,302.0"/>
<path d="M417.4,326.0 420.7,328.0 426.1,328.7 426.8,324.0 425.4,319.4 429.4,321.4 432.1,326.0 432.8,324.0 442.1,324.0 442.1,330.0 444.8,336.1 444.8,343.4 438.8,347.4 432.8,352.7 431.4,356.7 428.1,354.1 424.1,348.7 418.7,346.7 413.4,344.1 412.1,340.7 414.7,334.0Z" fill="#59b0e2" stroke="none"/>
<path d="M417.4,326.0 420.7,328.0 426.1,328.7 426.8,324.0 425.4,319.4 429.4,321.4 432.1,326.0 432.8,324.0 442.1,324.0 442.1,330.0 444.8,336.1 444.8,343.4 438.8,347.4 432.8,352.7 431.4,356.7 428.1,354.1 424.1,348.7 418.7,346.7 413.4,344.1 412.1,340.7 414.7,334.0 417.4,326.0"/>
<path d="M455.5,300.0 460.8,300.0 461.5,308.0 464.8,309.3 465.5,314.7 462.8,318.0 453.5,318.0 452.8,310.0 453.5,307.3 455.5,306.7Z" fill="#2a85c1" stroke="none"/>
<path d="M455.5,300.0 460.8,300.0 461.5,308.0 464.8,309.3 465.5,314.7 462.8,318.0 453.5,318.0 452.8,310.0 453.5,307.3 455.5,306.7 455.5,300.0"/>
<path d="M445.4,297.3 469.5,297.3 469.5,299.1 445.4,299.1Z" fill="#2a85c1" stroke="none"/>
<path d="M469.5,297.3 469.5,299.1 445.4,299.1 445.4,297.3"/>
<path d="M476.2,317.4 484.8,317.4 484.8,335.4 478.8,334.7 475.5,333.4Z" fill="#264c8c" stroke="none"/>
<path d="M476.2,317.4 484.8,317.4 M484.8,335.4 478.8,334.7 475.5,333.4 476.2,317.4"/>
<path d="M470.8,297.3 484.8,297.3 484.8,301.3 480.2,300.0 472.1,299.3Z" fill="#2868a8" stroke="none"/>
<path d="M484.8,301.3 480.2,300.0 472.1,299.3 470.8,297.3"/>
<path d="M480.8,304.0 484.8,303.3 484.8,315.4 480.2,315.4Z" fill="#59b0e2" stroke="none"/>
<path d="M480.8,304.0 484.8,303.3 M484.8,315.4 480.2,315.4 480.8,304.0"/>
<path d="M477.5,342.1 484.8,341.4 484.8,346.1 480.2,345.4Z" fill="#2868a8" stroke="none"/>
<path d="M477.5,342.1 484.8,341.4 M484.8,346.1 480.2,345.4 477.5,342.1"/>
<path d="M377.4,352.7 380.0,346.1 390.7,346.7 392.0,344.1 398.7,344.7 401.4,342.1 404.1,342.1 406.1,345.4 410.7,346.1 411.4,354.1 406.7,359.4 404.1,356.7 400.1,358.1 401.4,362.1 405.4,363.4 406.7,370.8 400.1,370.8 396.0,364.8 393.4,359.4 386.7,354.1 382.7,355.4Z" fill="#59b0e2" stroke="none"/>
<path d="M377.4,352.7 380.0,346.1 390.7,346.7 392.0,344.1 398.7,344.7 401.4,342.1 404.1,342.1 406.1,345.4 410.7,346.1 411.4,354.1 406.7,359.4 404.1,356.7 400.1,358.1 401.4,362.1 405.4,363.4 406.7,370.8 400.1,370.8 396.0,364.8 393.4,359.4 386.7,354.1 382.7,355.4 377.4,352.7"/>
<path d="M411.4,346.7 413.4,344.1 418.7,346.7 424.1,348.7 428.1,354.1 431.4,356.7 433.4,359.4 432.1,363.4 436.1,370.8 406.7,370.8 405.4,363.4 406.7,359.4 411.4,354.1Z" fill="#59b0e2" stroke="none"/>
<path d="M411.4,346.7 413.4,344.1 418.7,346.7 424.1,348.7 428.1,354.1 431.4,356.7 433.4,359.4 432.1,363.4 436.1,370.8 406.7,370.8 405.4,363.4 406.7,359.4 411.4,354.1 411.4,346.7"/>
<path d="M374.0,358.7 377.4,354.7 382.7,355.4 386.7,354.1 393.4,359.4 388.7,360.1 386.7,364.8 383.4,363.4 380.0,360.8 376.0,360.8Z" fill="#b5d9f4" stroke="none"/>
<path d="M374.0,358.7 377.4,354.7 382.7,355.4 386.7,354.1 393.4,359.4 388.7,360.1 386.7,364.8 383.4,363.4 380.0,360.8 376.0,360.8 374.0,358.7"/>
<path d="M359.3,356.7 364.0,356.7 364.0,370.8 359.3,370.8Z" fill="#b5d9f4" stroke="none"/>
<path d="M359.3,356.7 364.0,356.7 364.0,370.8 359.3,370.8"/>
<path d="M470.7,297.3 494.7,297.3 494.0,300.7 486.0,301.3 485.4,303.3 481.4,302.7 480.7,300.0 470.7,299.3Z" fill="#2868a8" stroke="none"/>
<path d="M494.7,297.3 494.0,300.7 486.0,301.3 485.4,303.3 481.4,302.7 480.7,300.0 470.7,299.3 470.7,297.3"/>
<path d="M480.7,303.3 485.4,303.3 486.0,301.3 494.0,300.7 494.7,297.3 525.4,297.3 525.4,320.7 504.1,320.7 502.7,324.7 500.0,323.4 499.4,318.7 495.4,318.7 494.7,321.4 486.0,320.7 485.4,317.4 479.4,316.7 480.0,310.0Z" fill="#59b0e2" stroke="none"/>
<path d="M480.7,303.3 485.4,303.3 486.0,301.3 494.0,300.7 494.7,297.3 M525.4,297.3 525.4,320.7 504.1,320.7 502.7,324.7 500.0,323.4 499.4,318.7 495.4,318.7 494.7,321.4 486.0,320.7 485.4,317.4 479.4,316.7 480.0,310.0 480.7,303.3"/>
<path d="M476.0,317.4 485.4,317.4 486.0,320.7 494.7,321.4 495.4,318.7 499.4,318.7 500.0,323.4 502.7,324.7 504.1,322.0 506.7,326.0 504.1,330.0 500.0,330.7 495.4,328.7 494.0,332.7 490.0,333.4 489.4,336.1 478.7,335.4 476.0,333.4Z" fill="#264c8c" stroke="none"/>
<path d="M476.0,317.4 485.4,317.4 486.0,320.7 494.7,321.4 495.4,318.7 499.4,318.7 500.0,323.4 502.7,324.7 504.1,322.0 506.7,326.0 504.1,330.0 500.0,330.7 495.4,328.7 494.0,332.7 490.0,333.4 489.4,336.1 478.7,335.4 476.0,333.4 476.0,317.4"/>
<path d="M478.7,342.1 485.4,341.4 486.0,336.7 489.4,336.1 490.0,333.4 494.0,332.7 495.4,328.7 500.0,330.7 504.1,330.0 525.4,330.0 525.4,371.4 486.0,371.4 486.0,356.1 491.4,355.4 491.4,349.4 486.0,348.1 480.0,346.1 477.4,343.4Z" fill="#2868a8" stroke="none"/>
<path d="M478.7,342.1 485.4,341.4 486.0,336.7 489.4,336.1 490.0,333.4 494.0,332.7 495.4,328.7 500.0,330.7 504.1,330.0 525.4,330.0 525.4,371.4 486.0,371.4 486.0,356.1 491.4,355.4 491.4,349.4 486.0,348.1 480.0,346.1 477.4,343.4 478.7,342.1"/>
<path d="M463.3,309.3 465.3,310.0 465.3,314.7 463.3,315.4Z" fill="#2a85c1" stroke="none"/>
<path d="M463.3,309.3 465.3,310.0 465.3,314.7 463.3,315.4"/>
<path d="M312.8,55.3 313.4,65.4 312.8,72.7 M327.5,55.3 328.1,62.7 322.8,70.7 326.8,74.7 327.5,82.7 332.1,85.4 329.5,87.4 M335.5,68.0 338.8,66.7 342.8,69.4 341.5,73.4 346.8,72.0 346.8,65.4 352.2,64.0 360.0,60.0 M332.1,85.4 334.8,77.4 341.5,78.0 341.5,90.1 M352.2,64.0 353.5,70.7 358.8,76.0 356.8,82.7 360.0,89.4 M260.7,80.7 294.7,78.0 M260.7,80.7 260.0,87.4 256.0,87.4 M252.7,96.1 245.3,98.7 M248.0,121.4 290.1,120.8 M262.7,122.1 262.0,132.1 268.0,137.4 280.1,136.1 280.1,129.4 286.7,128.8 289.4,125.4 294.7,121.4 M297.4,120.8 296.1,126.8 292.1,130.8 M326.8,129.4 349.5,128.8 352.2,124.8 M349.5,128.8 350.8,140.0 M280.1,136.1 281.4,140.0 M297.4,55.3 297.4,65.4 295.4,66.7 296.7,72.0 M446.8,55.3 448.1,60.0 453.5,61.3 452.1,65.4 444.1,69.4 445.4,76.0 M464.1,55.3 466.8,60.0 468.1,67.4 M430.1,76.7 440.1,77.4 M441.4,84.0 440.1,90.7 437.4,98.7 434.8,102.7 440.1,106.7 445.4,105.4 453.5,110.7 461.5,105.4 465.5,104.1 464.1,96.1 461.5,90.1 M453.5,110.7 452.8,118.8 456.1,124.1 461.5,128.1 M465.5,104.1 469.5,117.4 477.5,116.1 484.0,109.4 M409.4,124.1 423.4,125.4 441.4,126.1 442.8,122.8 450.8,122.8 453.5,124.8 M410.1,124.8 410.7,132.1 416.1,137.4 418.7,140.0 M423.4,126.1 423.4,140.0 M441.4,126.1 441.4,140.0 M466.8,129.4 469.5,122.8 474.8,124.1 476.2,126.8 484.0,124.1 M409.4,97.4 433.4,98.1 437.4,98.7 M390.7,58.7 398.7,64.7 402.7,66.7 406.7,69.4 408.1,76.0 405.4,81.4 404.1,84.0 M398.7,64.7 397.4,70.7 402.7,74.7 406.1,78.7 M360.0,70.0 366.7,69.4 M373.4,70.7 372.7,84.0 M377.4,124.1 380.0,122.8 379.4,124.8 M392.7,55.3 391.4,58.7 388.7,62.0 389.4,65.4 386.0,68.0 M430.8,55.3 429.4,60.0 426.8,61.3 429.4,66.7 425.4,70.7 418.7,72.7 413.4,76.0 410.7,82.7 408.7,84.0 M387.4,108.1 380.0,106.1 374.7,103.4 368.7,105.4 M506.0,55.3 508.0,61.3 M537.4,55.3 537.4,62.7 534.7,65.4 534.1,74.0 M568.1,55.3 568.1,63.3 M534.7,75.4 552.1,76.0 552.8,77.4 M552.1,76.0 553.4,84.0 549.4,88.0 545.4,85.4 538.1,86.7 M553.4,84.0 558.8,84.0 564.1,84.7 M538.1,86.7 534.7,92.1 532.7,93.4 M532.7,93.4 548.1,92.1 550.8,96.1 556.1,93.4 560.1,96.1 564.1,90.7 564.8,88.0 M564.1,90.7 570.8,86.7 573.5,85.4 M531.4,103.4 566.8,102.7 M517.4,105.4 517.4,126.1 M517.4,126.1 576.1,126.8 M568.1,103.4 565.4,110.7 569.4,116.1 576.1,117.4 578.8,110.7 581.5,105.4 583.5,103.4 588.1,102.7 M576.1,117.4 576.1,127.4 M588.1,102.7 588.1,116.1 582.8,118.8 583.5,126.8 584.1,131.4 M588.1,116.1 598.8,117.4 M548.8,121.4 548.8,126.8 M561.4,114.8 561.4,126.1 M492.7,80.0 492.0,85.4 501.4,89.4 506.0,89.4 M505.4,104.7 501.4,110.7 492.0,112.1 489.3,105.4 M484.0,84.0 492.7,80.0 M495.3,63.3 498.0,66.0 505.4,65.4 M497.4,126.8 494.7,124.1 492.0,132.1 492.7,140.0 M260.0,140.0 261.4,144.0 268.0,149.3 274.7,150.7 M291.4,140.0 292.1,146.7 297.4,157.4 M308.8,140.0 308.8,156.0 M346.8,140.0 346.1,150.7 341.5,153.4 341.5,156.0 338.8,160.0 M341.5,156.0 350.8,160.0 360.0,157.4 M252.0,150.0 256.0,149.3 258.7,152.0 259.4,156.0 264.0,158.7 264.7,160.0 M280.1,189.4 283.4,186.7 289.4,187.4 308.1,188.7 M309.4,186.1 321.4,186.7 323.4,189.4 332.1,180.1 340.1,177.4 341.5,185.4 334.8,187.4 332.1,190.1 324.8,193.4 324.1,195.4 309.4,194.7 M250.7,205.4 254.7,206.1 256.0,209.4 261.4,210.1 258.7,213.4 260.7,217.4 290.7,218.8 M250.7,218.8 258.7,220.1 M340.8,210.8 360.0,210.8 M356.2,144.0 358.8,150.7 360.0,152.0 M278.7,184.1 278.1,190.7 268.0,191.4 258.0,193.4 M261.4,177.4 264.7,176.0 270.7,175.4 277.4,176.7 278.7,184.1 M273.4,164.7 276.1,158.7 279.4,154.7 283.4,153.4 M333.5,170.7 336.1,165.4 338.8,160.0 M340.1,202.1 350.8,191.4 360.0,190.7 M360.0,152.0 364.0,153.4 366.7,158.7 366.0,162.0 M366.0,162.0 374.7,165.4 M364.0,170.7 373.4,173.4 375.4,172.0 374.7,165.4 M361.3,178.7 366.7,180.1 373.4,182.7 384.0,186.1 M390.7,154.7 393.4,149.3 404.1,148.7 M390.0,164.0 401.4,165.4 406.1,157.4 M401.4,165.4 402.7,176.0 400.1,180.1 398.7,181.4 M402.7,176.0 413.4,175.4 420.1,172.0 M400.1,180.1 401.4,190.7 413.4,192.1 414.1,190.7 M398.7,196.1 405.4,195.4 408.1,198.7 406.1,204.1 408.1,209.4 409.4,220.1 413.4,225.4 M408.1,198.7 418.7,194.7 425.4,196.1 M406.1,206.8 416.1,209.4 417.4,208.1 M425.4,213.4 429.4,217.4 417.4,216.1 416.1,220.1 M383.4,203.4 384.0,198.7 388.0,197.4 M436.1,150.7 434.1,153.4 M443.4,152.7 450.8,150.7 456.1,152.0 461.5,157.4 464.1,157.4 M445.4,161.4 448.1,156.0 456.1,156.0 461.5,160.0 465.5,164.0 466.8,164.7 M471.5,162.7 473.5,172.0 480.2,173.4 484.0,172.0 M458.1,188.1 466.8,184.1 M458.1,196.1 466.8,197.4 M466.8,209.4 459.5,209.4 M448.1,200.1 456.1,196.1 M446.8,144.0 448.1,149.3 452.1,150.7 457.5,145.3 458.8,140.0 M374.7,140.0 375.4,148.0 M433.4,160.0 434.1,170.7 M289.4,244.7 290.1,256.0 M306.1,281.4 316.1,284.1 322.8,286.1 327.5,285.4 M252.0,282.7 260.0,281.4 264.0,284.1 266.0,297.4 M326.8,264.0 328.1,268.7 340.1,268.7 M318.8,250.7 321.4,256.0 324.8,261.4 M277.4,298.8 281.4,304.8 286.7,304.1 289.4,310.8 292.1,316.0 M276.1,293.4 279.4,289.4 286.7,288.1 292.1,288.1 293.4,292.1 298.8,295.4 304.1,294.8 306.8,297.4 306.1,302.8 301.4,306.8 M296.1,264.7 302.8,262.7 310.8,262.7 316.1,264.7 326.8,264.0 M336.8,270.7 337.5,278.1 M256.0,301.4 260.7,296.8 266.0,297.4 271.4,298.8 276.1,293.4 M248.7,239.3 254.7,238.7 260.0,240.7 262.7,237.3 268.7,238.0 270.7,244.7 289.4,244.7 M332.1,228.0 334.1,237.3 338.8,242.7 353.5,241.4 M321.4,304.8 324.8,309.4 329.5,308.1 M248.7,264.7 261.4,263.4 264.7,262.0 266.0,266.7 269.4,266.7 272.0,263.4 M422.1,236.0 440.8,236.0 M425.4,236.7 424.8,274.7 M389.4,253.4 388.7,266.7 404.1,268.1 410.7,270.7 413.4,274.1 M383.4,298.8 388.7,294.8 396.0,293.4 402.7,296.1 405.4,300.1 413.4,302.8 416.7,305.4 M388.0,284.1 388.7,294.8 M470.8,228.0 469.5,232.0 466.8,236.0 M472.1,237.3 473.5,245.4 477.5,252.0 482.8,256.0 484.0,248.0 M444.8,308.1 444.8,316.0 M461.5,298.8 461.5,306.8 M480.2,300.1 481.5,308.1 M406.1,308.1 408.1,312.1 404.1,313.4 M381.4,274.7 384.7,276.7 388.0,284.1 M372.7,300.1 372.0,305.4 376.0,316.0 M383.4,308.1 385.4,313.4 M444.1,308.0 444.1,323.4 M444.8,336.1 484.0,335.4 M364.7,337.4 364.7,356.7 364.0,369.4 M444.8,343.4 448.1,347.4 449.5,352.7 454.8,356.7 456.1,360.8 453.5,362.1 450.8,363.4 449.5,369.4 M432.8,352.7 433.4,359.4 432.1,363.4 436.1,369.4 M474.8,311.4 475.5,317.4 M376.0,334.0 381.4,330.7 384.0,329.4 M370.7,298.0 372.0,306.0 377.4,316.7 382.7,323.4 M383.4,298.0 383.4,306.0 386.0,311.4 M260.7,303.3 260.0,307.3 M276.1,298.0 280.1,303.3 286.7,303.3 288.1,310.0 292.1,312.7 295.4,314.0 M332.1,349.4 332.1,360.8 M353.5,330.0 342.8,330.7 333.5,330.0 M354.2,336.7 360.0,338.1 M284.1,340.7 292.1,341.4 297.4,344.7 302.8,347.4 M324.8,306.0 332.1,308.0 341.5,305.3 346.8,310.0 352.2,315.4 357.5,318.0 M484.0,230.0 497.4,230.0 500.7,234.7 504.0,237.3 506.7,241.4 510.7,245.4 516.7,250.0 M484.0,246.0 485.3,241.4 488.0,240.7 490.0,238.0 492.0,236.0 500.0,235.3 500.7,234.7 M484.0,153.4 488.0,160.0 M492.0,201.4 492.7,209.4 M516.7,140.0 516.7,157.4"/>
</g></svg>
<div class="zoom"><svg width="31.4" height="31.4" viewBox="0 0 31.4 31.4"><circle cx="15" cy="15.6" r="4.3" fill="none" stroke="#222" stroke-width="1.9"/><path d="M18.1 18.8 L21.4 21.6" stroke="#222" stroke-width="1.9" stroke-linecap="round"/></svg></div>
</div>
<p><span class="ln c" style="top:595.2px"><span style="transform:translateX(31.86px) scaleX(1.0248)">Source:</span> <span style="transform:translateX(84.07px) scaleX(1.0184)">National</span> <span style="transform:translateX(139.43px) scaleX(1.0426)">Center</span> <span style="transform:translateX(187.30px) scaleX(1.0538)">for</span> <span style="transform:translateX(207.85px) scaleX(1.0274)">Education</span> <span style="transform:translateX(275.61px) scaleX(1.0610)">Statistics</span></span></p>
<svg class="icon" viewBox="0 0 884 663" fill="none" stroke="#ea4ba1" stroke-width="27" stroke-linejoin="round" stroke-linecap="round"><path d="M140 170 L300 175 Q350 190 390 222 Q420 170 470 165 Q510 175 560 230 Q600 255 660 210 L705 150 Q745 175 725 245 L690 280 L680 340 Q590 345 520 320 Q450 280 390 228 Q360 262 330 268 L140 265 Z"/><path d="M140 340 Q240 325 290 305 L345 270 Q400 330 450 370 Q510 400 640 410 L650 500 L672 530 L650 552 Q600 500 570 480 Q520 462 490 475 Q440 500 412 545 L380 505 Q350 470 320 465 L240 458 Q190 430 155 375 Z"/></svg>
<p><span class="ln g" style="top:592.8px"><span style="transform:translateX(806.27px) scaleX(0.9785)">USA</span><span style="transform:translateX(846.86px) scaleX(1.0086)">Facts</span></span></p>
</div>
</body>
</html>
